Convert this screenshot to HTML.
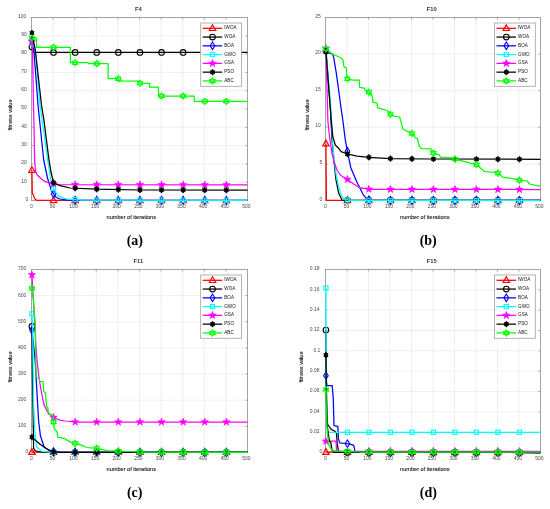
<!DOCTYPE html><html><head><meta charset="utf-8"><style>html,body{margin:0;padding:0;background:#fff}svg{display:block}</style></head><body>
<svg width="550" height="509" viewBox="0 0 550 509">
<rect width="550" height="509" fill="#fff"/>
<g stroke="#ebebeb" stroke-width="0.8"><line x1="53.1" y1="17.5" x2="53.1" y2="200.5"/><line x1="74.7" y1="17.5" x2="74.7" y2="200.5"/><line x1="96.3" y1="17.5" x2="96.3" y2="200.5"/><line x1="117.9" y1="17.5" x2="117.9" y2="200.5"/><line x1="139.5" y1="17.5" x2="139.5" y2="200.5"/><line x1="161.1" y1="17.5" x2="161.1" y2="200.5"/><line x1="182.7" y1="17.5" x2="182.7" y2="200.5"/><line x1="204.3" y1="17.5" x2="204.3" y2="200.5"/><line x1="225.9" y1="17.5" x2="225.9" y2="200.5"/><line x1="31.5" y1="182.2" x2="247.5" y2="182.2"/><line x1="31.5" y1="163.9" x2="247.5" y2="163.9"/><line x1="31.5" y1="145.6" x2="247.5" y2="145.6"/><line x1="31.5" y1="127.3" x2="247.5" y2="127.3"/><line x1="31.5" y1="109" x2="247.5" y2="109"/><line x1="31.5" y1="90.7" x2="247.5" y2="90.7"/><line x1="31.5" y1="72.4" x2="247.5" y2="72.4"/><line x1="31.5" y1="54.1" x2="247.5" y2="54.1"/><line x1="31.5" y1="35.8" x2="247.5" y2="35.8"/></g>
<rect x="31.5" y="17.5" width="216" height="183" fill="none" stroke="#9a9a9a" stroke-width="0.9"/>
<g stroke="#8a8a8a" stroke-width="0.7"><line x1="53.1" y1="200.5" x2="53.1" y2="198.5"/><line x1="53.1" y1="17.5" x2="53.1" y2="19.5"/><line x1="74.7" y1="200.5" x2="74.7" y2="198.5"/><line x1="74.7" y1="17.5" x2="74.7" y2="19.5"/><line x1="96.3" y1="200.5" x2="96.3" y2="198.5"/><line x1="96.3" y1="17.5" x2="96.3" y2="19.5"/><line x1="117.9" y1="200.5" x2="117.9" y2="198.5"/><line x1="117.9" y1="17.5" x2="117.9" y2="19.5"/><line x1="139.5" y1="200.5" x2="139.5" y2="198.5"/><line x1="139.5" y1="17.5" x2="139.5" y2="19.5"/><line x1="161.1" y1="200.5" x2="161.1" y2="198.5"/><line x1="161.1" y1="17.5" x2="161.1" y2="19.5"/><line x1="182.7" y1="200.5" x2="182.7" y2="198.5"/><line x1="182.7" y1="17.5" x2="182.7" y2="19.5"/><line x1="204.3" y1="200.5" x2="204.3" y2="198.5"/><line x1="204.3" y1="17.5" x2="204.3" y2="19.5"/><line x1="225.9" y1="200.5" x2="225.9" y2="198.5"/><line x1="225.9" y1="17.5" x2="225.9" y2="19.5"/><line x1="31.5" y1="182.2" x2="33.5" y2="182.2"/><line x1="247.5" y1="182.2" x2="245.5" y2="182.2"/><line x1="31.5" y1="163.9" x2="33.5" y2="163.9"/><line x1="247.5" y1="163.9" x2="245.5" y2="163.9"/><line x1="31.5" y1="145.6" x2="33.5" y2="145.6"/><line x1="247.5" y1="145.6" x2="245.5" y2="145.6"/><line x1="31.5" y1="127.3" x2="33.5" y2="127.3"/><line x1="247.5" y1="127.3" x2="245.5" y2="127.3"/><line x1="31.5" y1="109" x2="33.5" y2="109"/><line x1="247.5" y1="109" x2="245.5" y2="109"/><line x1="31.5" y1="90.7" x2="33.5" y2="90.7"/><line x1="247.5" y1="90.7" x2="245.5" y2="90.7"/><line x1="31.5" y1="72.4" x2="33.5" y2="72.4"/><line x1="247.5" y1="72.4" x2="245.5" y2="72.4"/><line x1="31.5" y1="54.1" x2="33.5" y2="54.1"/><line x1="247.5" y1="54.1" x2="245.5" y2="54.1"/><line x1="31.5" y1="35.8" x2="33.5" y2="35.8"/><line x1="247.5" y1="35.8" x2="245.5" y2="35.8"/></g>
<g font-family="Liberation Sans, Arial, sans-serif" font-size="5" fill="#4a4a4a"><text x="31.3" y="208.3" text-anchor="middle">0</text><text x="52.6" y="208.3" text-anchor="middle">50</text><text x="73.5" y="208.3" text-anchor="middle">100</text><text x="95.1" y="208.3" text-anchor="middle">150</text><text x="116.7" y="208.3" text-anchor="middle">200</text><text x="138.3" y="208.3" text-anchor="middle">250</text><text x="159.9" y="208.3" text-anchor="middle">300</text><text x="181.5" y="208.3" text-anchor="middle">350</text><text x="203.1" y="208.3" text-anchor="middle">400</text><text x="224.7" y="208.3" text-anchor="middle">450</text><text x="246.3" y="208.3" text-anchor="middle">500</text><text x="28.4" y="200.8" text-anchor="end">0</text><text x="26.9" y="182.5" text-anchor="end">10</text><text x="26.9" y="164.2" text-anchor="end">20</text><text x="26.9" y="145.9" text-anchor="end">30</text><text x="26.9" y="127.6" text-anchor="end">40</text><text x="26.9" y="109.3" text-anchor="end">50</text><text x="26.9" y="91" text-anchor="end">60</text><text x="26.9" y="72.7" text-anchor="end">70</text><text x="26.9" y="54.4" text-anchor="end">80</text><text x="26.9" y="36.1" text-anchor="end">90</text><text x="26.4" y="17.8" text-anchor="end">100</text></g>
<text x="138.3" y="10.8" text-anchor="middle" font-family="Liberation Sans, Arial, sans-serif" font-size="5.8" font-weight="bold" fill="#333">F4</text>
<text x="131.3" y="218.6" text-anchor="middle" font-family="Liberation Sans, Arial, sans-serif" font-size="5.6" fill="#1a1a1a" stroke="#1a1a1a" stroke-width="0.12">number of iterations</text>
<text transform="translate(12.4,115) rotate(-90)" text-anchor="middle" font-family="Liberation Sans, Arial, sans-serif" font-size="5.6" fill="#1a1a1a" stroke="#1a1a1a" stroke-width="0.12">fitness value</text>
<path d="M31.93,170.3 L32.3,192.7 L34.9,198.9 L37,200.4 L247.5,200.4" fill="none" stroke="#ff0000" stroke-width="1.25" stroke-linejoin="round"/>
<polygon points="31.93,166.7 35.13,172.5 28.73,172.5" fill="none" stroke="#ff0000" stroke-width="1.2"/><polygon points="53.53,196.8 56.73,202.6 50.33,202.6" fill="none" stroke="#ff0000" stroke-width="1.2"/><polygon points="75.13,196.8 78.33,202.6 71.93,202.6" fill="none" stroke="#ff0000" stroke-width="1.2"/><polygon points="96.73,196.8 99.93,202.6 93.53,202.6" fill="none" stroke="#ff0000" stroke-width="1.2"/><polygon points="118.33,196.8 121.53,202.6 115.13,202.6" fill="none" stroke="#ff0000" stroke-width="1.2"/><polygon points="139.93,196.8 143.13,202.6 136.73,202.6" fill="none" stroke="#ff0000" stroke-width="1.2"/><polygon points="161.53,196.8 164.73,202.6 158.33,202.6" fill="none" stroke="#ff0000" stroke-width="1.2"/><polygon points="183.13,196.8 186.33,202.6 179.93,202.6" fill="none" stroke="#ff0000" stroke-width="1.2"/><polygon points="204.73,196.8 207.93,202.6 201.53,202.6" fill="none" stroke="#ff0000" stroke-width="1.2"/><polygon points="226.33,196.8 229.53,202.6 223.13,202.6" fill="none" stroke="#ff0000" stroke-width="1.2"/>
<path d="M31.93,46.9 L33.5,52.4 L247.5,52.4" fill="none" stroke="#000000" stroke-width="1.25" stroke-linejoin="round"/>
<circle cx="31.93" cy="46.9" r="2.8" fill="none" stroke="#000000" stroke-width="1.1"/><circle cx="53.53" cy="52.4" r="2.8" fill="none" stroke="#000000" stroke-width="1.1"/><circle cx="75.13" cy="52.4" r="2.8" fill="none" stroke="#000000" stroke-width="1.1"/><circle cx="96.73" cy="52.4" r="2.8" fill="none" stroke="#000000" stroke-width="1.1"/><circle cx="118.33" cy="52.4" r="2.8" fill="none" stroke="#000000" stroke-width="1.1"/><circle cx="139.93" cy="52.4" r="2.8" fill="none" stroke="#000000" stroke-width="1.1"/><circle cx="161.53" cy="52.4" r="2.8" fill="none" stroke="#000000" stroke-width="1.1"/><circle cx="183.13" cy="52.4" r="2.8" fill="none" stroke="#000000" stroke-width="1.1"/><circle cx="204.73" cy="52.4" r="2.8" fill="none" stroke="#000000" stroke-width="1.1"/><circle cx="226.33" cy="52.4" r="2.8" fill="none" stroke="#000000" stroke-width="1.1"/>
<path d="M31.93,40.5 L33.9,50 L38,105 L43.7,160 L47.5,178 L51.2,190.1 L52.8,192.7 L54.5,195.5 L56.5,197.5 L60,199 L66,199.9 L75,200.3 L247.5,200.3" fill="none" stroke="#0000ff" stroke-width="1.25" stroke-linejoin="round"/>
<polygon points="31.93,36.7 34.23,40.5 31.93,44.3 29.63,40.5" fill="none" stroke="#0000ff" stroke-width="1.1"/><polygon points="53.53,190.11 55.83,193.91 53.53,197.71 51.23,193.91" fill="none" stroke="#0000ff" stroke-width="1.1"/><polygon points="75.13,196.5 77.43,200.3 75.13,204.1 72.83,200.3" fill="none" stroke="#0000ff" stroke-width="1.1"/><polygon points="96.73,196.5 99.03,200.3 96.73,204.1 94.43,200.3" fill="none" stroke="#0000ff" stroke-width="1.1"/><polygon points="118.33,196.5 120.63,200.3 118.33,204.1 116.03,200.3" fill="none" stroke="#0000ff" stroke-width="1.1"/><polygon points="139.93,196.5 142.23,200.3 139.93,204.1 137.63,200.3" fill="none" stroke="#0000ff" stroke-width="1.1"/><polygon points="161.53,196.5 163.83,200.3 161.53,204.1 159.23,200.3" fill="none" stroke="#0000ff" stroke-width="1.1"/><polygon points="183.13,196.5 185.43,200.3 183.13,204.1 180.83,200.3" fill="none" stroke="#0000ff" stroke-width="1.1"/><polygon points="204.73,196.5 207.03,200.3 204.73,204.1 202.43,200.3" fill="none" stroke="#0000ff" stroke-width="1.1"/><polygon points="226.33,196.5 228.63,200.3 226.33,204.1 224.03,200.3" fill="none" stroke="#0000ff" stroke-width="1.1"/>
<path d="M31.93,43 L35.3,50 L40,105 L47.7,160 L50.5,178 L52.1,185.7 L54.3,190 L56.5,193.5 L59.2,196.3 L65,198.6 L70,199.3 L80,200 L247.5,200.3" fill="none" stroke="#00ffff" stroke-width="1.25" stroke-linejoin="round"/>
<rect x="29.83" y="40.9" width="4.2" height="4.2" fill="none" stroke="#00ffff" stroke-width="1.1"/><rect x="51.43" y="186.4" width="4.2" height="4.2" fill="none" stroke="#00ffff" stroke-width="1.1"/><rect x="73.03" y="197.56" width="4.2" height="4.2" fill="none" stroke="#00ffff" stroke-width="1.1"/><rect x="94.63" y="197.93" width="4.2" height="4.2" fill="none" stroke="#00ffff" stroke-width="1.1"/><rect x="116.23" y="197.97" width="4.2" height="4.2" fill="none" stroke="#00ffff" stroke-width="1.1"/><rect x="137.83" y="198.01" width="4.2" height="4.2" fill="none" stroke="#00ffff" stroke-width="1.1"/><rect x="159.43" y="198.05" width="4.2" height="4.2" fill="none" stroke="#00ffff" stroke-width="1.1"/><rect x="181.03" y="198.08" width="4.2" height="4.2" fill="none" stroke="#00ffff" stroke-width="1.1"/><rect x="202.63" y="198.12" width="4.2" height="4.2" fill="none" stroke="#00ffff" stroke-width="1.1"/><rect x="224.23" y="198.16" width="4.2" height="4.2" fill="none" stroke="#00ffff" stroke-width="1.1"/>
<path d="M31.93,41.5 L32.5,50 L33.5,105 L33.9,120 L34.6,160 L35.4,170 L36.2,173 L37.5,175.3 L40.4,178 L43,180.3 L45.2,181.7 L50.1,182.9 L53.5,183.8 L60,184.6 L247.5,184.9" fill="none" stroke="#ff00ff" stroke-width="1.25" stroke-linejoin="round"/>
<polygon points="31.93,37.6 32.87,40.21 35.64,40.29 33.45,41.99 34.22,44.66 31.93,43.1 29.64,44.66 30.41,41.99 28.22,40.29 30.99,40.21" fill="#ff00ff" stroke="#ff00ff" stroke-width="0.6"/><polygon points="53.53,179.9 54.47,182.51 57.24,182.6 55.05,184.3 55.82,186.96 53.53,185.4 51.24,186.96 52.01,184.3 49.82,182.6 52.59,182.51" fill="#ff00ff" stroke="#ff00ff" stroke-width="0.6"/><polygon points="75.13,180.72 76.07,183.33 78.84,183.42 76.65,185.12 77.42,187.78 75.13,186.22 72.84,187.78 73.61,185.12 71.42,183.42 74.19,183.33" fill="#ff00ff" stroke="#ff00ff" stroke-width="0.6"/><polygon points="96.73,180.76 97.67,183.36 100.44,183.45 98.25,185.15 99.02,187.81 96.73,186.26 94.44,187.81 95.21,185.15 93.02,183.45 95.79,183.36" fill="#ff00ff" stroke="#ff00ff" stroke-width="0.6"/><polygon points="118.33,180.79 119.27,183.4 122.04,183.49 119.85,185.19 120.62,187.85 118.33,186.29 116.04,187.85 116.81,185.19 114.62,183.49 117.39,183.4" fill="#ff00ff" stroke="#ff00ff" stroke-width="0.6"/><polygon points="139.93,180.83 140.87,183.43 143.64,183.52 141.45,185.22 142.22,187.88 139.93,186.33 137.64,187.88 138.41,185.22 136.22,183.52 138.99,183.43" fill="#ff00ff" stroke="#ff00ff" stroke-width="0.6"/><polygon points="161.53,180.86 162.47,183.47 165.24,183.56 163.05,185.26 163.82,187.92 161.53,186.36 159.24,187.92 160.01,185.26 157.82,183.56 160.59,183.47" fill="#ff00ff" stroke="#ff00ff" stroke-width="0.6"/><polygon points="183.13,180.9 184.07,183.5 186.84,183.59 184.65,185.29 185.42,187.95 183.13,186.4 180.84,187.95 181.61,185.29 179.42,183.59 182.19,183.5" fill="#ff00ff" stroke="#ff00ff" stroke-width="0.6"/><polygon points="204.73,180.93 205.67,183.54 208.44,183.63 206.25,185.33 207.02,187.99 204.73,186.43 202.44,187.99 203.21,185.33 201.02,183.63 203.79,183.54" fill="#ff00ff" stroke="#ff00ff" stroke-width="0.6"/><polygon points="226.33,180.97 227.27,183.57 230.04,183.66 227.85,185.36 228.62,188.02 226.33,186.47 224.04,188.02 224.81,185.36 222.62,183.66 225.39,183.57" fill="#ff00ff" stroke="#ff00ff" stroke-width="0.6"/>
<path d="M31.93,33 L33,40 L35.3,50 L41.5,105 L43.9,120 L49,160 L51,172 L53.5,182.6 L57,184.5 L60,185.6 L70,188 L96.7,189.2 L140,190 L247.5,190.2" fill="none" stroke="#000000" stroke-width="1.25" stroke-linejoin="round"/>
<polygon points="31.93,30 32.69,31.35 34.01,31.5 33.45,33 34.01,34.5 32.69,34.65 31.93,36 31.17,34.65 29.85,34.5 30.41,33 29.85,31.5 31.17,31.35" fill="#000000" stroke="#000000" stroke-width="0.8"/><polygon points="53.53,179.62 54.29,180.97 55.61,181.12 55.05,182.62 55.61,184.12 54.29,184.26 53.53,185.62 52.77,184.26 51.45,184.12 52.01,182.62 51.45,181.12 52.77,180.97" fill="#000000" stroke="#000000" stroke-width="0.8"/><polygon points="75.13,185.23 75.89,186.59 77.21,186.73 76.65,188.23 77.21,189.73 75.89,189.88 75.13,191.23 74.37,189.88 73.05,189.73 73.61,188.23 73.05,186.73 74.37,186.59" fill="#000000" stroke="#000000" stroke-width="0.8"/><polygon points="96.73,186.2 97.49,187.56 98.81,187.7 98.25,189.2 98.81,190.7 97.49,190.85 96.73,192.2 95.97,190.85 94.65,190.7 95.21,189.2 94.65,187.7 95.97,187.56" fill="#000000" stroke="#000000" stroke-width="0.8"/><polygon points="118.33,186.6 119.09,187.95 120.41,188.1 119.85,189.6 120.41,191.1 119.09,191.25 118.33,192.6 117.57,191.25 116.25,191.1 116.81,189.6 116.25,188.1 117.57,187.95" fill="#000000" stroke="#000000" stroke-width="0.8"/><polygon points="139.93,187 140.69,188.35 142.01,188.5 141.45,190 142.01,191.5 140.69,191.64 139.93,193 139.17,191.64 137.85,191.5 138.41,190 137.85,188.5 139.17,188.35" fill="#000000" stroke="#000000" stroke-width="0.8"/><polygon points="161.53,187.04 162.29,188.39 163.61,188.54 163.05,190.04 163.61,191.54 162.29,191.69 161.53,193.04 160.77,191.69 159.45,191.54 160.01,190.04 159.45,188.54 160.77,188.39" fill="#000000" stroke="#000000" stroke-width="0.8"/><polygon points="183.13,187.08 183.89,188.43 185.21,188.58 184.65,190.08 185.21,191.58 183.89,191.73 183.13,193.08 182.37,191.73 181.05,191.58 181.61,190.08 181.05,188.58 182.37,188.43" fill="#000000" stroke="#000000" stroke-width="0.8"/><polygon points="204.73,187.12 205.49,188.47 206.81,188.62 206.25,190.12 206.81,191.62 205.49,191.77 204.73,193.12 203.97,191.77 202.65,191.62 203.21,190.12 202.65,188.62 203.97,188.47" fill="#000000" stroke="#000000" stroke-width="0.8"/><polygon points="226.33,187.16 227.09,188.52 228.41,188.66 227.85,190.16 228.41,191.66 227.09,191.81 226.33,193.16 225.57,191.81 224.25,191.66 224.81,190.16 224.25,188.66 225.57,188.52" fill="#000000" stroke="#000000" stroke-width="0.8"/>
<path d="M31.93,38 L36.6,38 L36.6,47.3 L70.4,47.3 L70.4,62.7 L88.2,62.7 L88.4,63.6 L108.1,63.6 L108.1,78.7 L118.4,78.7 L118.6,80.9 L138.5,81.1 L139.5,83.2 L149.7,83.3 L149.7,87.2 L158.4,87.2 L158.6,96 L194.2,96 L194.4,101.3 L247.5,101.3" fill="none" stroke="#00ff00" stroke-width="1.25" stroke-linejoin="round"/>
<polygon points="31.93,35.1 32.83,36.44 34.44,36.55 33.73,38 34.44,39.45 32.83,39.56 31.93,40.9 31.03,39.56 29.42,39.45 30.13,38 29.42,36.55 31.03,36.44" fill="none" stroke="#00ff00" stroke-width="1.3"/><polygon points="53.53,44.4 54.43,45.74 56.04,45.85 55.33,47.3 56.04,48.75 54.43,48.86 53.53,50.2 52.63,48.86 51.02,48.75 51.73,47.3 51.02,45.85 52.63,45.74" fill="none" stroke="#00ff00" stroke-width="1.3"/><polygon points="75.13,59.8 76.03,61.14 77.64,61.25 76.93,62.7 77.64,64.15 76.03,64.26 75.13,65.6 74.23,64.26 72.62,64.15 73.33,62.7 72.62,61.25 74.23,61.14" fill="none" stroke="#00ff00" stroke-width="1.3"/><polygon points="96.73,60.7 97.63,62.04 99.24,62.15 98.53,63.6 99.24,65.05 97.63,65.16 96.73,66.5 95.83,65.16 94.22,65.05 94.93,63.6 94.22,62.15 95.83,62.04" fill="none" stroke="#00ff00" stroke-width="1.3"/><polygon points="118.33,75.8 119.23,77.14 120.84,77.25 120.13,78.7 120.84,80.15 119.23,80.26 118.33,81.6 117.43,80.26 115.82,80.15 116.53,78.7 115.82,77.25 117.43,77.14" fill="none" stroke="#00ff00" stroke-width="1.3"/><polygon points="139.93,80.3 140.83,81.65 142.44,81.75 141.73,83.2 142.44,84.65 140.83,84.76 139.93,86.1 139.03,84.76 137.42,84.65 138.13,83.2 137.42,81.75 139.03,81.65" fill="none" stroke="#00ff00" stroke-width="1.3"/><polygon points="161.53,93.1 162.43,94.44 164.04,94.55 163.33,96 164.04,97.45 162.43,97.56 161.53,98.9 160.63,97.56 159.02,97.45 159.73,96 159.02,94.55 160.63,94.44" fill="none" stroke="#00ff00" stroke-width="1.3"/><polygon points="183.13,93.1 184.03,94.44 185.64,94.55 184.93,96 185.64,97.45 184.03,97.56 183.13,98.9 182.23,97.56 180.62,97.45 181.33,96 180.62,94.55 182.23,94.44" fill="none" stroke="#00ff00" stroke-width="1.3"/><polygon points="204.73,98.4 205.63,99.74 207.24,99.85 206.53,101.3 207.24,102.75 205.63,102.86 204.73,104.2 203.83,102.86 202.22,102.75 202.93,101.3 202.22,99.85 203.83,99.74" fill="none" stroke="#00ff00" stroke-width="1.3"/><polygon points="226.33,98.4 227.23,99.74 228.84,99.85 228.13,101.3 228.84,102.75 227.23,102.86 226.33,104.2 225.43,102.86 223.82,102.75 224.53,101.3 223.82,99.85 225.43,99.74" fill="none" stroke="#00ff00" stroke-width="1.3"/>
<rect x="200.7" y="23" width="40.8" height="63.3" fill="#fff" stroke="#a0a0a0" stroke-width="0.8"/>
<line x1="202.7" y1="28.3" x2="222.2" y2="28.3" stroke="#ff0000" stroke-width="1.25"/>
<polygon points="212.5,24.7 215.7,30.5 209.3,30.5" fill="none" stroke="#ff0000" stroke-width="1.2"/>
<text x="224.3" y="29.2" font-family="Liberation Sans, Arial, sans-serif" font-size="4.6" fill="#111">IWOA</text>
<line x1="202.7" y1="37.07" x2="222.2" y2="37.07" stroke="#000000" stroke-width="1.25"/>
<circle cx="212.5" cy="37.07" r="2.8" fill="none" stroke="#000000" stroke-width="1.1"/>
<text x="224.3" y="37.97" font-family="Liberation Sans, Arial, sans-serif" font-size="4.6" fill="#111">WOA</text>
<line x1="202.7" y1="45.84" x2="222.2" y2="45.84" stroke="#0000ff" stroke-width="1.25"/>
<polygon points="212.5,42.04 214.8,45.84 212.5,49.64 210.2,45.84" fill="none" stroke="#0000ff" stroke-width="1.1"/>
<text x="224.3" y="46.74" font-family="Liberation Sans, Arial, sans-serif" font-size="4.6" fill="#111">BOA</text>
<line x1="202.7" y1="54.61" x2="222.2" y2="54.61" stroke="#00ffff" stroke-width="1.25"/>
<rect x="210.4" y="52.51" width="4.2" height="4.2" fill="none" stroke="#00ffff" stroke-width="1.1"/>
<text x="224.3" y="55.51" font-family="Liberation Sans, Arial, sans-serif" font-size="4.6" fill="#111">GWO</text>
<line x1="202.7" y1="63.38" x2="222.2" y2="63.38" stroke="#ff00ff" stroke-width="1.25"/>
<polygon points="212.5,59.48 213.44,62.09 216.21,62.17 214.02,63.87 214.79,66.54 212.5,64.98 210.21,66.54 210.98,63.87 208.79,62.17 211.56,62.09" fill="#ff00ff" stroke="#ff00ff" stroke-width="0.6"/>
<text x="224.3" y="64.28" font-family="Liberation Sans, Arial, sans-serif" font-size="4.6" fill="#111">GSA</text>
<line x1="202.7" y1="72.15" x2="222.2" y2="72.15" stroke="#000000" stroke-width="1.25"/>
<polygon points="212.5,69.15 213.26,70.5 214.58,70.65 214.02,72.15 214.58,73.65 213.26,73.8 212.5,75.15 211.74,73.8 210.42,73.65 210.98,72.15 210.42,70.65 211.74,70.5" fill="#000000" stroke="#000000" stroke-width="0.8"/>
<text x="224.3" y="73.05" font-family="Liberation Sans, Arial, sans-serif" font-size="4.6" fill="#111">PSO</text>
<line x1="202.7" y1="80.92" x2="222.2" y2="80.92" stroke="#00ff00" stroke-width="1.25"/>
<polygon points="212.5,78.02 213.4,79.36 215.01,79.47 214.3,80.92 215.01,82.37 213.4,82.48 212.5,83.82 211.6,82.48 209.99,82.37 210.7,80.92 209.99,79.47 211.6,79.36" fill="none" stroke="#00ff00" stroke-width="1.3"/>
<text x="224.3" y="81.82" font-family="Liberation Sans, Arial, sans-serif" font-size="4.6" fill="#111">ABC</text>
<text x="134.8" y="245.1" text-anchor="middle" font-family="Liberation Serif, Times New Roman, serif" font-size="14" font-weight="bold" fill="#000">(a)</text>
<g stroke="#ebebeb" stroke-width="0.8"><line x1="347" y1="17.5" x2="347" y2="200.5"/><line x1="368.5" y1="17.5" x2="368.5" y2="200.5"/><line x1="390" y1="17.5" x2="390" y2="200.5"/><line x1="411.5" y1="17.5" x2="411.5" y2="200.5"/><line x1="433" y1="17.5" x2="433" y2="200.5"/><line x1="454.5" y1="17.5" x2="454.5" y2="200.5"/><line x1="476" y1="17.5" x2="476" y2="200.5"/><line x1="497.5" y1="17.5" x2="497.5" y2="200.5"/><line x1="519" y1="17.5" x2="519" y2="200.5"/><line x1="325.5" y1="163.9" x2="540.5" y2="163.9"/><line x1="325.5" y1="127.3" x2="540.5" y2="127.3"/><line x1="325.5" y1="90.7" x2="540.5" y2="90.7"/><line x1="325.5" y1="54.1" x2="540.5" y2="54.1"/></g>
<rect x="325.5" y="17.5" width="215" height="183" fill="none" stroke="#9a9a9a" stroke-width="0.9"/>
<g stroke="#8a8a8a" stroke-width="0.7"><line x1="347" y1="200.5" x2="347" y2="198.5"/><line x1="347" y1="17.5" x2="347" y2="19.5"/><line x1="368.5" y1="200.5" x2="368.5" y2="198.5"/><line x1="368.5" y1="17.5" x2="368.5" y2="19.5"/><line x1="390" y1="200.5" x2="390" y2="198.5"/><line x1="390" y1="17.5" x2="390" y2="19.5"/><line x1="411.5" y1="200.5" x2="411.5" y2="198.5"/><line x1="411.5" y1="17.5" x2="411.5" y2="19.5"/><line x1="433" y1="200.5" x2="433" y2="198.5"/><line x1="433" y1="17.5" x2="433" y2="19.5"/><line x1="454.5" y1="200.5" x2="454.5" y2="198.5"/><line x1="454.5" y1="17.5" x2="454.5" y2="19.5"/><line x1="476" y1="200.5" x2="476" y2="198.5"/><line x1="476" y1="17.5" x2="476" y2="19.5"/><line x1="497.5" y1="200.5" x2="497.5" y2="198.5"/><line x1="497.5" y1="17.5" x2="497.5" y2="19.5"/><line x1="519" y1="200.5" x2="519" y2="198.5"/><line x1="519" y1="17.5" x2="519" y2="19.5"/><line x1="325.5" y1="163.9" x2="327.5" y2="163.9"/><line x1="540.5" y1="163.9" x2="538.5" y2="163.9"/><line x1="325.5" y1="127.3" x2="327.5" y2="127.3"/><line x1="540.5" y1="127.3" x2="538.5" y2="127.3"/><line x1="325.5" y1="90.7" x2="327.5" y2="90.7"/><line x1="540.5" y1="90.7" x2="538.5" y2="90.7"/><line x1="325.5" y1="54.1" x2="327.5" y2="54.1"/><line x1="540.5" y1="54.1" x2="538.5" y2="54.1"/></g>
<g font-family="Liberation Sans, Arial, sans-serif" font-size="5" fill="#4a4a4a"><text x="325.3" y="208.3" text-anchor="middle">0</text><text x="346.5" y="208.3" text-anchor="middle">50</text><text x="367.3" y="208.3" text-anchor="middle">100</text><text x="388.8" y="208.3" text-anchor="middle">150</text><text x="410.3" y="208.3" text-anchor="middle">200</text><text x="431.8" y="208.3" text-anchor="middle">250</text><text x="453.3" y="208.3" text-anchor="middle">300</text><text x="474.8" y="208.3" text-anchor="middle">350</text><text x="496.3" y="208.3" text-anchor="middle">400</text><text x="517.8" y="208.3" text-anchor="middle">450</text><text x="539.3" y="208.3" text-anchor="middle">500</text><text x="322.4" y="200.5" text-anchor="end">0</text><text x="322.4" y="163.9" text-anchor="end">5</text><text x="320.9" y="127.3" text-anchor="end">10</text><text x="320.9" y="90.7" text-anchor="end">15</text><text x="320.9" y="54.1" text-anchor="end">20</text><text x="320.9" y="17.5" text-anchor="end">25</text></g>
<text x="431.8" y="10.8" text-anchor="middle" font-family="Liberation Sans, Arial, sans-serif" font-size="5.8" font-weight="bold" fill="#333">F10</text>
<text x="424.8" y="218.6" text-anchor="middle" font-family="Liberation Sans, Arial, sans-serif" font-size="5.6" fill="#1a1a1a" stroke="#1a1a1a" stroke-width="0.12">number of iterations</text>
<text transform="translate(308.9,115) rotate(-90)" text-anchor="middle" font-family="Liberation Sans, Arial, sans-serif" font-size="5.6" fill="#1a1a1a" stroke="#1a1a1a" stroke-width="0.12">fitness value</text>
<path d="M325.93,143.7 L326.4,200.4 L540.5,200.4" fill="none" stroke="#ff0000" stroke-width="1.25" stroke-linejoin="round"/>
<polygon points="325.93,140.1 329.13,145.9 322.73,145.9" fill="none" stroke="#ff0000" stroke-width="1.2"/><polygon points="347.43,196.8 350.63,202.6 344.23,202.6" fill="none" stroke="#ff0000" stroke-width="1.2"/><polygon points="368.93,196.8 372.13,202.6 365.73,202.6" fill="none" stroke="#ff0000" stroke-width="1.2"/><polygon points="390.43,196.8 393.63,202.6 387.23,202.6" fill="none" stroke="#ff0000" stroke-width="1.2"/><polygon points="411.93,196.8 415.13,202.6 408.73,202.6" fill="none" stroke="#ff0000" stroke-width="1.2"/><polygon points="433.43,196.8 436.63,202.6 430.23,202.6" fill="none" stroke="#ff0000" stroke-width="1.2"/><polygon points="454.93,196.8 458.13,202.6 451.73,202.6" fill="none" stroke="#ff0000" stroke-width="1.2"/><polygon points="476.43,196.8 479.63,202.6 473.23,202.6" fill="none" stroke="#ff0000" stroke-width="1.2"/><polygon points="497.93,196.8 501.13,202.6 494.73,202.6" fill="none" stroke="#ff0000" stroke-width="1.2"/><polygon points="519.43,196.8 522.63,202.6 516.23,202.6" fill="none" stroke="#ff0000" stroke-width="1.2"/>
<path d="M325.93,51 L330.5,110 L332,140 L333.7,158.3 L336,180 L338.7,193.3 L342,200 L540.5,200.3" fill="none" stroke="#000000" stroke-width="1.25" stroke-linejoin="round"/>
<circle cx="325.93" cy="51" r="2.8" fill="none" stroke="#000000" stroke-width="1.1"/><circle cx="347.43" cy="200.01" r="2.8" fill="none" stroke="#000000" stroke-width="1.1"/><circle cx="368.93" cy="200.04" r="2.8" fill="none" stroke="#000000" stroke-width="1.1"/><circle cx="390.43" cy="200.07" r="2.8" fill="none" stroke="#000000" stroke-width="1.1"/><circle cx="411.93" cy="200.11" r="2.8" fill="none" stroke="#000000" stroke-width="1.1"/><circle cx="433.43" cy="200.14" r="2.8" fill="none" stroke="#000000" stroke-width="1.1"/><circle cx="454.93" cy="200.17" r="2.8" fill="none" stroke="#000000" stroke-width="1.1"/><circle cx="476.43" cy="200.2" r="2.8" fill="none" stroke="#000000" stroke-width="1.1"/><circle cx="497.93" cy="200.24" r="2.8" fill="none" stroke="#000000" stroke-width="1.1"/><circle cx="519.43" cy="200.27" r="2.8" fill="none" stroke="#000000" stroke-width="1.1"/>
<path d="M325.93,50 L328.3,53 L332.4,53.8 L333.8,57.9 L336.5,74.4 L341.3,110 L342.8,120 L345.3,140 L347.8,153.3 L350.9,168 L357.1,182.5 L363.3,194.8 L367.4,199.7 L372,200.4 L540.5,200.4" fill="none" stroke="#0000ff" stroke-width="1.25" stroke-linejoin="round"/>
<polygon points="325.93,46.2 328.23,50 325.93,53.8 323.63,50" fill="none" stroke="#0000ff" stroke-width="1.1"/><polygon points="347.43,147.53 349.73,151.33 347.43,155.13 345.13,151.33" fill="none" stroke="#0000ff" stroke-width="1.1"/><polygon points="368.93,196.13 371.23,199.93 368.93,203.73 366.63,199.93" fill="none" stroke="#0000ff" stroke-width="1.1"/><polygon points="390.43,196.6 392.73,200.4 390.43,204.2 388.13,200.4" fill="none" stroke="#0000ff" stroke-width="1.1"/><polygon points="411.93,196.6 414.23,200.4 411.93,204.2 409.63,200.4" fill="none" stroke="#0000ff" stroke-width="1.1"/><polygon points="433.43,196.6 435.73,200.4 433.43,204.2 431.13,200.4" fill="none" stroke="#0000ff" stroke-width="1.1"/><polygon points="454.93,196.6 457.23,200.4 454.93,204.2 452.63,200.4" fill="none" stroke="#0000ff" stroke-width="1.1"/><polygon points="476.43,196.6 478.73,200.4 476.43,204.2 474.13,200.4" fill="none" stroke="#0000ff" stroke-width="1.1"/><polygon points="497.93,196.6 500.23,200.4 497.93,204.2 495.63,200.4" fill="none" stroke="#0000ff" stroke-width="1.1"/><polygon points="519.43,196.6 521.73,200.4 519.43,204.2 517.13,200.4" fill="none" stroke="#0000ff" stroke-width="1.1"/>
<path d="M325.93,50 L331,110 L332.8,145 L334.5,161.7 L336.2,175 L338.7,186.7 L341.2,195 L344.5,199.5 L350,200.3 L540.5,200.5" fill="none" stroke="#00ffff" stroke-width="1.25" stroke-linejoin="round"/>
<rect x="323.83" y="47.9" width="4.2" height="4.2" fill="none" stroke="#00ffff" stroke-width="1.1"/><rect x="345.33" y="197.83" width="4.2" height="4.2" fill="none" stroke="#00ffff" stroke-width="1.1"/><rect x="366.83" y="198.22" width="4.2" height="4.2" fill="none" stroke="#00ffff" stroke-width="1.1"/><rect x="388.33" y="198.24" width="4.2" height="4.2" fill="none" stroke="#00ffff" stroke-width="1.1"/><rect x="409.83" y="198.27" width="4.2" height="4.2" fill="none" stroke="#00ffff" stroke-width="1.1"/><rect x="431.33" y="198.29" width="4.2" height="4.2" fill="none" stroke="#00ffff" stroke-width="1.1"/><rect x="452.83" y="198.31" width="4.2" height="4.2" fill="none" stroke="#00ffff" stroke-width="1.1"/><rect x="474.33" y="198.33" width="4.2" height="4.2" fill="none" stroke="#00ffff" stroke-width="1.1"/><rect x="495.83" y="198.36" width="4.2" height="4.2" fill="none" stroke="#00ffff" stroke-width="1.1"/><rect x="517.33" y="198.38" width="4.2" height="4.2" fill="none" stroke="#00ffff" stroke-width="1.1"/>
<path d="M325.93,48.2 L326.2,60 L327.6,110 L327.8,120 L329.5,136.7 L332,153.3 L334.5,163.3 L337,170 L340.3,175 L342.8,176.7 L347.4,179.4 L353,183.5 L359.2,187.6 L369.5,189.3 L540.5,189.5" fill="none" stroke="#ff00ff" stroke-width="1.25" stroke-linejoin="round"/>
<polygon points="325.93,44.3 326.87,46.91 329.64,46.99 327.45,48.69 328.22,51.36 325.93,49.8 323.64,51.36 324.41,48.69 322.22,46.99 324.99,46.91" fill="#ff00ff" stroke="#ff00ff" stroke-width="0.6"/><polygon points="347.43,175.52 348.37,178.13 351.14,178.22 348.95,179.92 349.72,182.58 347.43,181.02 345.14,182.58 345.91,179.92 343.72,178.22 346.49,178.13" fill="#ff00ff" stroke="#ff00ff" stroke-width="0.6"/><polygon points="368.93,185.31 369.87,187.91 372.64,188 370.45,189.7 371.22,192.36 368.93,190.81 366.64,192.36 367.41,189.7 365.22,188 367.99,187.91" fill="#ff00ff" stroke="#ff00ff" stroke-width="0.6"/><polygon points="390.43,185.42 391.37,188.03 394.14,188.12 391.95,189.82 392.72,192.48 390.43,190.92 388.14,192.48 388.91,189.82 386.72,188.12 389.49,188.03" fill="#ff00ff" stroke="#ff00ff" stroke-width="0.6"/><polygon points="411.93,185.45 412.87,188.06 415.64,188.14 413.45,189.84 414.22,192.5 411.93,190.95 409.64,192.5 410.41,189.84 408.22,188.14 410.99,188.06" fill="#ff00ff" stroke="#ff00ff" stroke-width="0.6"/><polygon points="433.43,185.47 434.37,188.08 437.14,188.17 434.95,189.87 435.72,192.53 433.43,190.97 431.14,192.53 431.91,189.87 429.72,188.17 432.49,188.08" fill="#ff00ff" stroke="#ff00ff" stroke-width="0.6"/><polygon points="454.93,185.5 455.87,188.11 458.64,188.19 456.45,189.89 457.22,192.56 454.93,191 452.64,192.56 453.41,189.89 451.22,188.19 453.99,188.11" fill="#ff00ff" stroke="#ff00ff" stroke-width="0.6"/><polygon points="476.43,185.53 477.37,188.13 480.14,188.22 477.95,189.92 478.72,192.58 476.43,191.03 474.14,192.58 474.91,189.92 472.72,188.22 475.49,188.13" fill="#ff00ff" stroke="#ff00ff" stroke-width="0.6"/><polygon points="497.93,185.55 498.87,188.16 501.64,188.25 499.45,189.94 500.22,192.61 497.93,191.05 495.64,192.61 496.41,189.94 494.22,188.25 496.99,188.16" fill="#ff00ff" stroke="#ff00ff" stroke-width="0.6"/><polygon points="519.43,185.58 520.37,188.18 523.14,188.27 520.95,189.97 521.72,192.63 519.43,191.08 517.14,192.63 517.91,189.97 515.72,188.27 518.49,188.18" fill="#ff00ff" stroke="#ff00ff" stroke-width="0.6"/>
<path d="M325.93,50.8 L331.2,120 L332.8,136.7 L335.3,145 L338.7,148.3 L341.2,151.7 L347.4,154 L357.1,156.1 L368.9,157.3 L390,158.6 L430,159 L540.5,159.3" fill="none" stroke="#000000" stroke-width="1.25" stroke-linejoin="round"/>
<polygon points="325.93,47.8 326.69,49.15 328.01,49.3 327.45,50.8 328.01,52.3 326.69,52.45 325.93,53.8 325.17,52.45 323.85,52.3 324.41,50.8 323.85,49.3 325.17,49.15" fill="#000000" stroke="#000000" stroke-width="0.8"/><polygon points="347.43,151.01 348.19,152.36 349.51,152.51 348.95,154.01 349.51,155.51 348.19,155.65 347.43,157.01 346.67,155.65 345.35,155.51 345.91,154.01 345.35,152.51 346.67,152.36" fill="#000000" stroke="#000000" stroke-width="0.8"/><polygon points="368.93,154.3 369.69,155.66 371.01,155.8 370.45,157.3 371.01,158.8 369.69,158.95 368.93,160.3 368.17,158.95 366.85,158.8 367.41,157.3 366.85,155.8 368.17,155.66" fill="#000000" stroke="#000000" stroke-width="0.8"/><polygon points="390.43,155.6 391.19,156.96 392.51,157.1 391.95,158.6 392.51,160.1 391.19,160.25 390.43,161.6 389.67,160.25 388.35,160.1 388.91,158.6 388.35,157.1 389.67,156.96" fill="#000000" stroke="#000000" stroke-width="0.8"/><polygon points="411.93,155.82 412.69,157.17 414.01,157.32 413.45,158.82 414.01,160.32 412.69,160.46 411.93,161.82 411.17,160.46 409.85,160.32 410.41,158.82 409.85,157.32 411.17,157.17" fill="#000000" stroke="#000000" stroke-width="0.8"/><polygon points="433.43,156.01 434.19,157.36 435.51,157.51 434.95,159.01 435.51,160.51 434.19,160.65 433.43,162.01 432.67,160.65 431.35,160.51 431.91,159.01 431.35,157.51 432.67,157.36" fill="#000000" stroke="#000000" stroke-width="0.8"/><polygon points="454.93,156.07 455.69,157.42 457.01,157.57 456.45,159.07 457.01,160.57 455.69,160.71 454.93,162.07 454.17,160.71 452.85,160.57 453.41,159.07 452.85,157.57 454.17,157.42" fill="#000000" stroke="#000000" stroke-width="0.8"/><polygon points="476.43,156.13 477.19,157.48 478.51,157.63 477.95,159.13 478.51,160.63 477.19,160.77 476.43,162.13 475.67,160.77 474.35,160.63 474.91,159.13 474.35,157.63 475.67,157.48" fill="#000000" stroke="#000000" stroke-width="0.8"/><polygon points="497.93,156.18 498.69,157.54 500.01,157.68 499.45,159.18 500.01,160.68 498.69,160.83 497.93,162.18 497.17,160.83 495.85,160.68 496.41,159.18 495.85,157.68 497.17,157.54" fill="#000000" stroke="#000000" stroke-width="0.8"/><polygon points="519.43,156.24 520.19,157.6 521.51,157.74 520.95,159.24 521.51,160.74 520.19,160.89 519.43,162.24 518.67,160.89 517.35,160.74 517.91,159.24 517.35,157.74 518.67,157.6" fill="#000000" stroke="#000000" stroke-width="0.8"/>
<path d="M325.93,48.9 L329,51.2 L333,54.4 L336,55.5 L341.6,58.3 L343.2,60.7 L344,67 L346.3,67.7 L346.8,78 L347.4,78.7 L352.6,80 L359.2,80 L359.7,87.4 L364.4,88.2 L365.2,90.5 L368.9,92.1 L372.2,96 L373,102.3 L377,103 L377.7,107.8 L380.6,108.6 L387.4,110.5 L390.6,114.5 L394.7,116.2 L399.6,117 L401.3,122.7 L402.9,129.3 L406.2,130.9 L411.9,133.4 L415.2,137.5 L417.6,139.1 L419.3,146.5 L421.7,148.6 L430.7,148.9 L433.2,153 L438.9,154.6 L440.6,157.1 L452,157.9 L455,159.1 L460.2,160.4 L470,163.2 L476.7,164.7 L484.7,171.7 L495.5,172.5 L498.3,173.2 L502.5,177.1 L517.2,179.4 L519.5,180.2 L527.2,181 L529.6,184 L540.5,186.4" fill="none" stroke="#00ff00" stroke-width="1.25" stroke-linejoin="round"/>
<polygon points="325.93,46 326.83,47.34 328.44,47.45 327.73,48.9 328.44,50.35 326.83,50.46 325.93,51.8 325.03,50.46 323.42,50.35 324.13,48.9 323.42,47.45 325.03,47.34" fill="none" stroke="#00ff00" stroke-width="1.3"/><polygon points="347.43,75.81 348.33,77.15 349.94,77.26 349.23,78.71 349.94,80.16 348.33,80.27 347.43,81.61 346.53,80.27 344.92,80.16 345.63,78.71 344.92,77.26 346.53,77.15" fill="none" stroke="#00ff00" stroke-width="1.3"/><polygon points="368.93,89.24 369.83,90.58 371.44,90.69 370.73,92.14 371.44,93.59 369.83,93.69 368.93,95.04 368.03,93.69 366.42,93.59 367.13,92.14 366.42,90.69 368.03,90.58" fill="none" stroke="#00ff00" stroke-width="1.3"/><polygon points="390.43,111.39 391.33,112.73 392.94,112.84 392.23,114.29 392.94,115.74 391.33,115.85 390.43,117.19 389.53,115.85 387.92,115.74 388.63,114.29 387.92,112.84 389.53,112.73" fill="none" stroke="#00ff00" stroke-width="1.3"/><polygon points="411.93,130.54 412.83,131.88 414.44,131.99 413.73,133.44 414.44,134.89 412.83,135 411.93,136.34 411.03,135 409.42,134.89 410.13,133.44 409.42,131.99 411.03,131.88" fill="none" stroke="#00ff00" stroke-width="1.3"/><polygon points="433.43,150.16 434.33,151.51 435.94,151.61 435.23,153.06 435.94,154.51 434.33,154.62 433.43,155.96 432.53,154.62 430.92,154.51 431.63,153.06 430.92,151.61 432.53,151.51" fill="none" stroke="#00ff00" stroke-width="1.3"/><polygon points="454.93,156.17 455.83,157.51 457.44,157.62 456.73,159.07 457.44,160.52 455.83,160.63 454.93,161.97 454.03,160.63 452.42,160.52 453.13,159.07 452.42,157.62 454.03,157.51" fill="none" stroke="#00ff00" stroke-width="1.3"/><polygon points="476.43,161.74 477.33,163.08 478.94,163.19 478.23,164.64 478.94,166.09 477.33,166.2 476.43,167.54 475.53,166.2 473.92,166.09 474.63,164.64 473.92,163.19 475.53,163.08" fill="none" stroke="#00ff00" stroke-width="1.3"/><polygon points="497.93,170.21 498.83,171.55 500.44,171.66 499.73,173.11 500.44,174.56 498.83,174.67 497.93,176.01 497.03,174.67 495.42,174.56 496.13,173.11 495.42,171.66 497.03,171.55" fill="none" stroke="#00ff00" stroke-width="1.3"/><polygon points="519.43,177.28 520.33,178.62 521.94,178.73 521.23,180.18 521.94,181.63 520.33,181.73 519.43,183.08 518.53,181.73 516.92,181.63 517.63,180.18 516.92,178.73 518.53,178.62" fill="none" stroke="#00ff00" stroke-width="1.3"/>
<rect x="494.5" y="23" width="40.8" height="63.3" fill="#fff" stroke="#a0a0a0" stroke-width="0.8"/>
<line x1="496.5" y1="28.3" x2="516" y2="28.3" stroke="#ff0000" stroke-width="1.25"/>
<polygon points="506.3,24.7 509.5,30.5 503.1,30.5" fill="none" stroke="#ff0000" stroke-width="1.2"/>
<text x="518.1" y="29.2" font-family="Liberation Sans, Arial, sans-serif" font-size="4.6" fill="#111">IWOA</text>
<line x1="496.5" y1="37.07" x2="516" y2="37.07" stroke="#000000" stroke-width="1.25"/>
<circle cx="506.3" cy="37.07" r="2.8" fill="none" stroke="#000000" stroke-width="1.1"/>
<text x="518.1" y="37.97" font-family="Liberation Sans, Arial, sans-serif" font-size="4.6" fill="#111">WOA</text>
<line x1="496.5" y1="45.84" x2="516" y2="45.84" stroke="#0000ff" stroke-width="1.25"/>
<polygon points="506.3,42.04 508.6,45.84 506.3,49.64 504,45.84" fill="none" stroke="#0000ff" stroke-width="1.1"/>
<text x="518.1" y="46.74" font-family="Liberation Sans, Arial, sans-serif" font-size="4.6" fill="#111">BOA</text>
<line x1="496.5" y1="54.61" x2="516" y2="54.61" stroke="#00ffff" stroke-width="1.25"/>
<rect x="504.2" y="52.51" width="4.2" height="4.2" fill="none" stroke="#00ffff" stroke-width="1.1"/>
<text x="518.1" y="55.51" font-family="Liberation Sans, Arial, sans-serif" font-size="4.6" fill="#111">GWO</text>
<line x1="496.5" y1="63.38" x2="516" y2="63.38" stroke="#ff00ff" stroke-width="1.25"/>
<polygon points="506.3,59.48 507.24,62.09 510.01,62.17 507.82,63.87 508.59,66.54 506.3,64.98 504.01,66.54 504.78,63.87 502.59,62.17 505.36,62.09" fill="#ff00ff" stroke="#ff00ff" stroke-width="0.6"/>
<text x="518.1" y="64.28" font-family="Liberation Sans, Arial, sans-serif" font-size="4.6" fill="#111">GSA</text>
<line x1="496.5" y1="72.15" x2="516" y2="72.15" stroke="#000000" stroke-width="1.25"/>
<polygon points="506.3,69.15 507.06,70.5 508.38,70.65 507.82,72.15 508.38,73.65 507.06,73.8 506.3,75.15 505.54,73.8 504.22,73.65 504.78,72.15 504.22,70.65 505.54,70.5" fill="#000000" stroke="#000000" stroke-width="0.8"/>
<text x="518.1" y="73.05" font-family="Liberation Sans, Arial, sans-serif" font-size="4.6" fill="#111">PSO</text>
<line x1="496.5" y1="80.92" x2="516" y2="80.92" stroke="#00ff00" stroke-width="1.25"/>
<polygon points="506.3,78.02 507.2,79.36 508.81,79.47 508.1,80.92 508.81,82.37 507.2,82.48 506.3,83.82 505.4,82.48 503.79,82.37 504.5,80.92 503.79,79.47 505.4,79.36" fill="none" stroke="#00ff00" stroke-width="1.3"/>
<text x="518.1" y="81.82" font-family="Liberation Sans, Arial, sans-serif" font-size="4.6" fill="#111">ABC</text>
<text x="428.2" y="245.1" text-anchor="middle" font-family="Liberation Serif, Times New Roman, serif" font-size="14" font-weight="bold" fill="#000">(b)</text>
<g stroke="#ebebeb" stroke-width="0.8"><line x1="53.1" y1="269.5" x2="53.1" y2="452.5"/><line x1="74.7" y1="269.5" x2="74.7" y2="452.5"/><line x1="96.3" y1="269.5" x2="96.3" y2="452.5"/><line x1="117.9" y1="269.5" x2="117.9" y2="452.5"/><line x1="139.5" y1="269.5" x2="139.5" y2="452.5"/><line x1="161.1" y1="269.5" x2="161.1" y2="452.5"/><line x1="182.7" y1="269.5" x2="182.7" y2="452.5"/><line x1="204.3" y1="269.5" x2="204.3" y2="452.5"/><line x1="225.9" y1="269.5" x2="225.9" y2="452.5"/><line x1="31.5" y1="426.36" x2="247.5" y2="426.36"/><line x1="31.5" y1="400.21" x2="247.5" y2="400.21"/><line x1="31.5" y1="374.07" x2="247.5" y2="374.07"/><line x1="31.5" y1="347.93" x2="247.5" y2="347.93"/><line x1="31.5" y1="321.79" x2="247.5" y2="321.79"/><line x1="31.5" y1="295.64" x2="247.5" y2="295.64"/></g>
<rect x="31.5" y="269.5" width="216" height="183" fill="none" stroke="#9a9a9a" stroke-width="0.9"/>
<g stroke="#8a8a8a" stroke-width="0.7"><line x1="53.1" y1="452.5" x2="53.1" y2="450.5"/><line x1="53.1" y1="269.5" x2="53.1" y2="271.5"/><line x1="74.7" y1="452.5" x2="74.7" y2="450.5"/><line x1="74.7" y1="269.5" x2="74.7" y2="271.5"/><line x1="96.3" y1="452.5" x2="96.3" y2="450.5"/><line x1="96.3" y1="269.5" x2="96.3" y2="271.5"/><line x1="117.9" y1="452.5" x2="117.9" y2="450.5"/><line x1="117.9" y1="269.5" x2="117.9" y2="271.5"/><line x1="139.5" y1="452.5" x2="139.5" y2="450.5"/><line x1="139.5" y1="269.5" x2="139.5" y2="271.5"/><line x1="161.1" y1="452.5" x2="161.1" y2="450.5"/><line x1="161.1" y1="269.5" x2="161.1" y2="271.5"/><line x1="182.7" y1="452.5" x2="182.7" y2="450.5"/><line x1="182.7" y1="269.5" x2="182.7" y2="271.5"/><line x1="204.3" y1="452.5" x2="204.3" y2="450.5"/><line x1="204.3" y1="269.5" x2="204.3" y2="271.5"/><line x1="225.9" y1="452.5" x2="225.9" y2="450.5"/><line x1="225.9" y1="269.5" x2="225.9" y2="271.5"/><line x1="31.5" y1="426.36" x2="33.5" y2="426.36"/><line x1="247.5" y1="426.36" x2="245.5" y2="426.36"/><line x1="31.5" y1="400.21" x2="33.5" y2="400.21"/><line x1="247.5" y1="400.21" x2="245.5" y2="400.21"/><line x1="31.5" y1="374.07" x2="33.5" y2="374.07"/><line x1="247.5" y1="374.07" x2="245.5" y2="374.07"/><line x1="31.5" y1="347.93" x2="33.5" y2="347.93"/><line x1="247.5" y1="347.93" x2="245.5" y2="347.93"/><line x1="31.5" y1="321.79" x2="33.5" y2="321.79"/><line x1="247.5" y1="321.79" x2="245.5" y2="321.79"/><line x1="31.5" y1="295.64" x2="33.5" y2="295.64"/><line x1="247.5" y1="295.64" x2="245.5" y2="295.64"/></g>
<g font-family="Liberation Sans, Arial, sans-serif" font-size="5" fill="#4a4a4a"><text x="31.3" y="460.3" text-anchor="middle">0</text><text x="52.6" y="460.3" text-anchor="middle">50</text><text x="73.5" y="460.3" text-anchor="middle">100</text><text x="95.1" y="460.3" text-anchor="middle">150</text><text x="116.7" y="460.3" text-anchor="middle">200</text><text x="138.3" y="460.3" text-anchor="middle">250</text><text x="159.9" y="460.3" text-anchor="middle">300</text><text x="181.5" y="460.3" text-anchor="middle">350</text><text x="203.1" y="460.3" text-anchor="middle">400</text><text x="224.7" y="460.3" text-anchor="middle">450</text><text x="246.3" y="460.3" text-anchor="middle">500</text><text x="28.4" y="453.4" text-anchor="end">0</text><text x="26.4" y="427.26" text-anchor="end">100</text><text x="26.4" y="401.11" text-anchor="end">200</text><text x="26.4" y="374.97" text-anchor="end">300</text><text x="26.4" y="348.83" text-anchor="end">400</text><text x="26.4" y="322.69" text-anchor="end">500</text><text x="26.4" y="296.54" text-anchor="end">600</text><text x="26.4" y="270.4" text-anchor="end">700</text></g>
<text x="138.3" y="262.8" text-anchor="middle" font-family="Liberation Sans, Arial, sans-serif" font-size="5.8" font-weight="bold" fill="#333">F11</text>
<text x="131.3" y="470.6" text-anchor="middle" font-family="Liberation Sans, Arial, sans-serif" font-size="5.6" fill="#1a1a1a" stroke="#1a1a1a" stroke-width="0.12">number of iterations</text>
<text transform="translate(12.4,367) rotate(-90)" text-anchor="middle" font-family="Liberation Sans, Arial, sans-serif" font-size="5.6" fill="#1a1a1a" stroke="#1a1a1a" stroke-width="0.12">fitness value</text>
<path d="M31.93,452.2 L247.5,452.2" fill="none" stroke="#ff0000" stroke-width="1.25" stroke-linejoin="round"/>
<polygon points="31.93,448.6 35.13,454.4 28.73,454.4" fill="none" stroke="#ff0000" stroke-width="1.2"/><polygon points="53.53,448.6 56.73,454.4 50.33,454.4" fill="none" stroke="#ff0000" stroke-width="1.2"/><polygon points="75.13,448.6 78.33,454.4 71.93,454.4" fill="none" stroke="#ff0000" stroke-width="1.2"/><polygon points="96.73,448.6 99.93,454.4 93.53,454.4" fill="none" stroke="#ff0000" stroke-width="1.2"/><polygon points="118.33,448.6 121.53,454.4 115.13,454.4" fill="none" stroke="#ff0000" stroke-width="1.2"/><polygon points="139.93,448.6 143.13,454.4 136.73,454.4" fill="none" stroke="#ff0000" stroke-width="1.2"/><polygon points="161.53,448.6 164.73,454.4 158.33,454.4" fill="none" stroke="#ff0000" stroke-width="1.2"/><polygon points="183.13,448.6 186.33,454.4 179.93,454.4" fill="none" stroke="#ff0000" stroke-width="1.2"/><polygon points="204.73,448.6 207.93,454.4 201.53,454.4" fill="none" stroke="#ff0000" stroke-width="1.2"/><polygon points="226.33,448.6 229.53,454.4 223.13,454.4" fill="none" stroke="#ff0000" stroke-width="1.2"/>
<path d="M31.93,326.4 L32.5,380 L33.2,420 L33.6,448.2 L35,450.5 L37.9,451.5 L45,452.3 L247.5,452.4" fill="none" stroke="#000000" stroke-width="1.25" stroke-linejoin="round"/>
<circle cx="31.93" cy="326.4" r="2.8" fill="none" stroke="#000000" stroke-width="1.1"/><circle cx="53.53" cy="452.3" r="2.8" fill="none" stroke="#000000" stroke-width="1.1"/><circle cx="75.13" cy="452.31" r="2.8" fill="none" stroke="#000000" stroke-width="1.1"/><circle cx="96.73" cy="452.33" r="2.8" fill="none" stroke="#000000" stroke-width="1.1"/><circle cx="118.33" cy="452.34" r="2.8" fill="none" stroke="#000000" stroke-width="1.1"/><circle cx="139.93" cy="452.35" r="2.8" fill="none" stroke="#000000" stroke-width="1.1"/><circle cx="161.53" cy="452.36" r="2.8" fill="none" stroke="#000000" stroke-width="1.1"/><circle cx="183.13" cy="452.37" r="2.8" fill="none" stroke="#000000" stroke-width="1.1"/><circle cx="204.73" cy="452.38" r="2.8" fill="none" stroke="#000000" stroke-width="1.1"/><circle cx="226.33" cy="452.39" r="2.8" fill="none" stroke="#000000" stroke-width="1.1"/>
<path d="M31.93,330 L35.1,359.4 L37.4,400 L38.5,419.8 L40.4,435.8 L44.1,447 L50.3,451.3 L60,452.2 L247.5,452.4" fill="none" stroke="#0000ff" stroke-width="1.25" stroke-linejoin="round"/>
<polygon points="31.93,326.2 34.23,330 31.93,333.8 29.63,330" fill="none" stroke="#0000ff" stroke-width="1.1"/><polygon points="53.53,447.8 55.83,451.6 53.53,455.4 51.23,451.6" fill="none" stroke="#0000ff" stroke-width="1.1"/><polygon points="75.13,448.42 77.43,452.22 75.13,456.02 72.83,452.22" fill="none" stroke="#0000ff" stroke-width="1.1"/><polygon points="96.73,448.44 99.03,452.24 96.73,456.04 94.43,452.24" fill="none" stroke="#0000ff" stroke-width="1.1"/><polygon points="118.33,448.46 120.63,452.26 118.33,456.06 116.03,452.26" fill="none" stroke="#0000ff" stroke-width="1.1"/><polygon points="139.93,448.49 142.23,452.29 139.93,456.09 137.63,452.29" fill="none" stroke="#0000ff" stroke-width="1.1"/><polygon points="161.53,448.51 163.83,452.31 161.53,456.11 159.23,452.31" fill="none" stroke="#0000ff" stroke-width="1.1"/><polygon points="183.13,448.53 185.43,452.33 183.13,456.13 180.83,452.33" fill="none" stroke="#0000ff" stroke-width="1.1"/><polygon points="204.73,448.55 207.03,452.35 204.73,456.15 202.43,452.35" fill="none" stroke="#0000ff" stroke-width="1.1"/><polygon points="226.33,448.58 228.63,452.38 226.33,456.18 224.03,452.38" fill="none" stroke="#0000ff" stroke-width="1.1"/>
<path d="M31.93,313.8 L32.7,329.4 L33.5,400 L34.8,432 L36.7,447 L41.6,451.3 L50,452.2 L247.5,452.4" fill="none" stroke="#00ffff" stroke-width="1.25" stroke-linejoin="round"/>
<rect x="29.83" y="311.7" width="4.2" height="4.2" fill="none" stroke="#00ffff" stroke-width="1.1"/><rect x="51.43" y="450.1" width="4.2" height="4.2" fill="none" stroke="#00ffff" stroke-width="1.1"/><rect x="73.03" y="450.13" width="4.2" height="4.2" fill="none" stroke="#00ffff" stroke-width="1.1"/><rect x="94.63" y="450.15" width="4.2" height="4.2" fill="none" stroke="#00ffff" stroke-width="1.1"/><rect x="116.23" y="450.17" width="4.2" height="4.2" fill="none" stroke="#00ffff" stroke-width="1.1"/><rect x="137.83" y="450.19" width="4.2" height="4.2" fill="none" stroke="#00ffff" stroke-width="1.1"/><rect x="159.43" y="450.21" width="4.2" height="4.2" fill="none" stroke="#00ffff" stroke-width="1.1"/><rect x="181.03" y="450.23" width="4.2" height="4.2" fill="none" stroke="#00ffff" stroke-width="1.1"/><rect x="202.63" y="450.26" width="4.2" height="4.2" fill="none" stroke="#00ffff" stroke-width="1.1"/><rect x="224.23" y="450.28" width="4.2" height="4.2" fill="none" stroke="#00ffff" stroke-width="1.1"/>
<path d="M31.93,274.8 L32.8,290 L34.3,315 L35.5,340 L37,360 L39,377.5 L41,390 L43,400 L44.1,404.9 L47.8,412.3 L53.4,417.3 L58.9,419.8 L65.1,421 L75,422 L247.5,422" fill="none" stroke="#ff00ff" stroke-width="1.25" stroke-linejoin="round"/>
<polygon points="31.93,270.9 32.87,273.51 35.64,273.59 33.45,275.29 34.22,277.96 31.93,276.4 29.64,277.96 30.41,275.29 28.22,273.59 30.99,273.51" fill="#ff00ff" stroke="#ff00ff" stroke-width="0.6"/><polygon points="53.53,413.46 54.47,416.07 57.24,416.15 55.05,417.85 55.82,420.52 53.53,418.96 51.24,420.52 52.01,417.85 49.82,416.15 52.59,416.07" fill="#ff00ff" stroke="#ff00ff" stroke-width="0.6"/><polygon points="75.13,418.1 76.07,420.71 78.84,420.79 76.65,422.49 77.42,425.16 75.13,423.6 72.84,425.16 73.61,422.49 71.42,420.79 74.19,420.71" fill="#ff00ff" stroke="#ff00ff" stroke-width="0.6"/><polygon points="96.73,418.1 97.67,420.71 100.44,420.79 98.25,422.49 99.02,425.16 96.73,423.6 94.44,425.16 95.21,422.49 93.02,420.79 95.79,420.71" fill="#ff00ff" stroke="#ff00ff" stroke-width="0.6"/><polygon points="118.33,418.1 119.27,420.71 122.04,420.79 119.85,422.49 120.62,425.16 118.33,423.6 116.04,425.16 116.81,422.49 114.62,420.79 117.39,420.71" fill="#ff00ff" stroke="#ff00ff" stroke-width="0.6"/><polygon points="139.93,418.1 140.87,420.71 143.64,420.79 141.45,422.49 142.22,425.16 139.93,423.6 137.64,425.16 138.41,422.49 136.22,420.79 138.99,420.71" fill="#ff00ff" stroke="#ff00ff" stroke-width="0.6"/><polygon points="161.53,418.1 162.47,420.71 165.24,420.79 163.05,422.49 163.82,425.16 161.53,423.6 159.24,425.16 160.01,422.49 157.82,420.79 160.59,420.71" fill="#ff00ff" stroke="#ff00ff" stroke-width="0.6"/><polygon points="183.13,418.1 184.07,420.71 186.84,420.79 184.65,422.49 185.42,425.16 183.13,423.6 180.84,425.16 181.61,422.49 179.42,420.79 182.19,420.71" fill="#ff00ff" stroke="#ff00ff" stroke-width="0.6"/><polygon points="204.73,418.1 205.67,420.71 208.44,420.79 206.25,422.49 207.02,425.16 204.73,423.6 202.44,425.16 203.21,422.49 201.02,420.79 203.79,420.71" fill="#ff00ff" stroke="#ff00ff" stroke-width="0.6"/><polygon points="226.33,418.1 227.27,420.71 230.04,420.79 227.85,422.49 228.62,425.16 226.33,423.6 224.04,425.16 224.81,422.49 222.62,420.79 225.39,420.71" fill="#ff00ff" stroke="#ff00ff" stroke-width="0.6"/>
<path d="M31.93,437.1 L35.4,440.2 L40.4,444.5 L46.6,448.8 L52.8,451.9 L60,452.3 L247.5,452.4" fill="none" stroke="#000000" stroke-width="1.25" stroke-linejoin="round"/>
<polygon points="31.93,434.1 32.69,435.45 34.01,435.6 33.45,437.1 34.01,438.6 32.69,438.75 31.93,440.1 31.17,438.75 29.85,438.6 30.41,437.1 29.85,435.6 31.17,435.45" fill="#000000" stroke="#000000" stroke-width="0.8"/><polygon points="53.53,448.94 54.29,450.3 55.61,450.44 55.05,451.94 55.61,453.44 54.29,453.59 53.53,454.94 52.77,453.59 51.45,453.44 52.01,451.94 51.45,450.44 52.77,450.3" fill="#000000" stroke="#000000" stroke-width="0.8"/><polygon points="75.13,449.31 75.89,450.66 77.21,450.81 76.65,452.31 77.21,453.81 75.89,453.95 75.13,455.31 74.37,453.95 73.05,453.81 73.61,452.31 73.05,450.81 74.37,450.66" fill="#000000" stroke="#000000" stroke-width="0.8"/><polygon points="96.73,449.32 97.49,450.67 98.81,450.82 98.25,452.32 98.81,453.82 97.49,453.97 96.73,455.32 95.97,453.97 94.65,453.82 95.21,452.32 94.65,450.82 95.97,450.67" fill="#000000" stroke="#000000" stroke-width="0.8"/><polygon points="118.33,449.33 119.09,450.69 120.41,450.83 119.85,452.33 120.41,453.83 119.09,453.98 118.33,455.33 117.57,453.98 116.25,453.83 116.81,452.33 116.25,450.83 117.57,450.69" fill="#000000" stroke="#000000" stroke-width="0.8"/><polygon points="139.93,449.34 140.69,450.7 142.01,450.84 141.45,452.34 142.01,453.84 140.69,453.99 139.93,455.34 139.17,453.99 137.85,453.84 138.41,452.34 137.85,450.84 139.17,450.7" fill="#000000" stroke="#000000" stroke-width="0.8"/><polygon points="161.53,449.35 162.29,450.71 163.61,450.85 163.05,452.35 163.61,453.85 162.29,454 161.53,455.35 160.77,454 159.45,453.85 160.01,452.35 159.45,450.85 160.77,450.71" fill="#000000" stroke="#000000" stroke-width="0.8"/><polygon points="183.13,449.37 183.89,450.72 185.21,450.87 184.65,452.37 185.21,453.87 183.89,454.01 183.13,455.37 182.37,454.01 181.05,453.87 181.61,452.37 181.05,450.87 182.37,450.72" fill="#000000" stroke="#000000" stroke-width="0.8"/><polygon points="204.73,449.38 205.49,450.73 206.81,450.88 206.25,452.38 206.81,453.88 205.49,454.02 204.73,455.38 203.97,454.02 202.65,453.88 203.21,452.38 202.65,450.88 203.97,450.73" fill="#000000" stroke="#000000" stroke-width="0.8"/><polygon points="226.33,449.39 227.09,450.74 228.41,450.89 227.85,452.39 228.41,453.89 227.09,454.03 226.33,455.39 225.57,454.03 224.25,453.89 224.81,452.39 224.25,450.89 225.57,450.74" fill="#000000" stroke="#000000" stroke-width="0.8"/>
<path d="M31.93,288.2 L33.4,300 L35.4,325 L36,377.5 L39,378 L39.8,381.4 L43,381.7 L43.7,391.7 L45.3,392.4 L46.6,406.8 L47.8,407.4 L48.4,414.2 L52.8,415.4 L53.4,420.4 L54,427.8 L57.1,432.1 L57.7,437.1 L63.9,438.3 L71.3,442.6 L75,443.3 L78,443.9 L83.1,445.8 L86.4,447.5 L97,448.3 L107.6,450.7 L117.5,451 L140,452 L247.5,452.3" fill="none" stroke="#00ff00" stroke-width="1.25" stroke-linejoin="round"/>
<polygon points="31.93,285.3 32.83,286.64 34.44,286.75 33.73,288.2 34.44,289.65 32.83,289.76 31.93,291.1 31.03,289.76 29.42,289.65 30.13,288.2 29.42,286.75 31.03,286.64" fill="none" stroke="#00ff00" stroke-width="1.3"/><polygon points="53.53,419.13 54.43,420.47 56.04,420.58 55.33,422.03 56.04,423.48 54.43,423.59 53.53,424.93 52.63,423.59 51.02,423.48 51.73,422.03 51.02,420.58 52.63,420.47" fill="none" stroke="#00ff00" stroke-width="1.3"/><polygon points="75.13,440.43 76.03,441.77 77.64,441.88 76.93,443.33 77.64,444.78 76.03,444.89 75.13,446.23 74.23,444.89 72.62,444.78 73.33,443.33 72.62,441.88 74.23,441.77" fill="none" stroke="#00ff00" stroke-width="1.3"/><polygon points="96.73,445.38 97.63,446.72 99.24,446.83 98.53,448.28 99.24,449.73 97.63,449.84 96.73,451.18 95.83,449.84 94.22,449.73 94.93,448.28 94.22,446.83 95.83,446.72" fill="none" stroke="#00ff00" stroke-width="1.3"/><polygon points="118.33,448.14 119.23,449.48 120.84,449.59 120.13,451.04 120.84,452.49 119.23,452.6 118.33,453.94 117.43,452.6 115.82,452.49 116.53,451.04 115.82,449.59 117.43,449.48" fill="none" stroke="#00ff00" stroke-width="1.3"/><polygon points="139.93,449.1 140.83,450.44 142.44,450.55 141.73,452 142.44,453.45 140.83,453.56 139.93,454.9 139.03,453.56 137.42,453.45 138.13,452 137.42,450.55 139.03,450.44" fill="none" stroke="#00ff00" stroke-width="1.3"/><polygon points="161.53,449.16 162.43,450.5 164.04,450.61 163.33,452.06 164.04,453.51 162.43,453.62 161.53,454.96 160.63,453.62 159.02,453.51 159.73,452.06 159.02,450.61 160.63,450.5" fill="none" stroke="#00ff00" stroke-width="1.3"/><polygon points="183.13,449.22 184.03,450.56 185.64,450.67 184.93,452.12 185.64,453.57 184.03,453.68 183.13,455.02 182.23,453.68 180.62,453.57 181.33,452.12 180.62,450.67 182.23,450.56" fill="none" stroke="#00ff00" stroke-width="1.3"/><polygon points="204.73,449.28 205.63,450.62 207.24,450.73 206.53,452.18 207.24,453.63 205.63,453.74 204.73,455.08 203.83,453.74 202.22,453.63 202.93,452.18 202.22,450.73 203.83,450.62" fill="none" stroke="#00ff00" stroke-width="1.3"/><polygon points="226.33,449.34 227.23,450.68 228.84,450.79 228.13,452.24 228.84,453.69 227.23,453.8 226.33,455.14 225.43,453.8 223.82,453.69 224.53,452.24 223.82,450.79 225.43,450.68" fill="none" stroke="#00ff00" stroke-width="1.3"/>
<rect x="200.7" y="275" width="40.8" height="63.3" fill="#fff" stroke="#a0a0a0" stroke-width="0.8"/>
<line x1="202.7" y1="280.3" x2="222.2" y2="280.3" stroke="#ff0000" stroke-width="1.25"/>
<polygon points="212.5,276.7 215.7,282.5 209.3,282.5" fill="none" stroke="#ff0000" stroke-width="1.2"/>
<text x="224.3" y="281.2" font-family="Liberation Sans, Arial, sans-serif" font-size="4.6" fill="#111">IWOA</text>
<line x1="202.7" y1="289.07" x2="222.2" y2="289.07" stroke="#000000" stroke-width="1.25"/>
<circle cx="212.5" cy="289.07" r="2.8" fill="none" stroke="#000000" stroke-width="1.1"/>
<text x="224.3" y="289.97" font-family="Liberation Sans, Arial, sans-serif" font-size="4.6" fill="#111">WOA</text>
<line x1="202.7" y1="297.84" x2="222.2" y2="297.84" stroke="#0000ff" stroke-width="1.25"/>
<polygon points="212.5,294.04 214.8,297.84 212.5,301.64 210.2,297.84" fill="none" stroke="#0000ff" stroke-width="1.1"/>
<text x="224.3" y="298.74" font-family="Liberation Sans, Arial, sans-serif" font-size="4.6" fill="#111">BOA</text>
<line x1="202.7" y1="306.61" x2="222.2" y2="306.61" stroke="#00ffff" stroke-width="1.25"/>
<rect x="210.4" y="304.51" width="4.2" height="4.2" fill="none" stroke="#00ffff" stroke-width="1.1"/>
<text x="224.3" y="307.51" font-family="Liberation Sans, Arial, sans-serif" font-size="4.6" fill="#111">GWO</text>
<line x1="202.7" y1="315.38" x2="222.2" y2="315.38" stroke="#ff00ff" stroke-width="1.25"/>
<polygon points="212.5,311.48 213.44,314.09 216.21,314.17 214.02,315.87 214.79,318.54 212.5,316.98 210.21,318.54 210.98,315.87 208.79,314.17 211.56,314.09" fill="#ff00ff" stroke="#ff00ff" stroke-width="0.6"/>
<text x="224.3" y="316.28" font-family="Liberation Sans, Arial, sans-serif" font-size="4.6" fill="#111">GSA</text>
<line x1="202.7" y1="324.15" x2="222.2" y2="324.15" stroke="#000000" stroke-width="1.25"/>
<polygon points="212.5,321.15 213.26,322.5 214.58,322.65 214.02,324.15 214.58,325.65 213.26,325.8 212.5,327.15 211.74,325.8 210.42,325.65 210.98,324.15 210.42,322.65 211.74,322.5" fill="#000000" stroke="#000000" stroke-width="0.8"/>
<text x="224.3" y="325.05" font-family="Liberation Sans, Arial, sans-serif" font-size="4.6" fill="#111">PSO</text>
<line x1="202.7" y1="332.92" x2="222.2" y2="332.92" stroke="#00ff00" stroke-width="1.25"/>
<polygon points="212.5,330.02 213.4,331.36 215.01,331.47 214.3,332.92 215.01,334.37 213.4,334.48 212.5,335.82 211.6,334.48 209.99,334.37 210.7,332.92 209.99,331.47 211.6,331.36" fill="none" stroke="#00ff00" stroke-width="1.3"/>
<text x="224.3" y="333.82" font-family="Liberation Sans, Arial, sans-serif" font-size="4.6" fill="#111">ABC</text>
<text x="134.7" y="497.1" text-anchor="middle" font-family="Liberation Serif, Times New Roman, serif" font-size="14" font-weight="bold" fill="#000">(c)</text>
<g stroke="#ebebeb" stroke-width="0.8"><line x1="347" y1="269.5" x2="347" y2="452.5"/><line x1="368.5" y1="269.5" x2="368.5" y2="452.5"/><line x1="390" y1="269.5" x2="390" y2="452.5"/><line x1="411.5" y1="269.5" x2="411.5" y2="452.5"/><line x1="433" y1="269.5" x2="433" y2="452.5"/><line x1="454.5" y1="269.5" x2="454.5" y2="452.5"/><line x1="476" y1="269.5" x2="476" y2="452.5"/><line x1="497.5" y1="269.5" x2="497.5" y2="452.5"/><line x1="519" y1="269.5" x2="519" y2="452.5"/><line x1="325.5" y1="432.17" x2="540.5" y2="432.17"/><line x1="325.5" y1="411.83" x2="540.5" y2="411.83"/><line x1="325.5" y1="391.5" x2="540.5" y2="391.5"/><line x1="325.5" y1="371.17" x2="540.5" y2="371.17"/><line x1="325.5" y1="350.83" x2="540.5" y2="350.83"/><line x1="325.5" y1="330.5" x2="540.5" y2="330.5"/><line x1="325.5" y1="310.17" x2="540.5" y2="310.17"/><line x1="325.5" y1="289.83" x2="540.5" y2="289.83"/></g>
<rect x="325.5" y="269.5" width="215" height="183" fill="none" stroke="#9a9a9a" stroke-width="0.9"/>
<g stroke="#8a8a8a" stroke-width="0.7"><line x1="347" y1="452.5" x2="347" y2="450.5"/><line x1="347" y1="269.5" x2="347" y2="271.5"/><line x1="368.5" y1="452.5" x2="368.5" y2="450.5"/><line x1="368.5" y1="269.5" x2="368.5" y2="271.5"/><line x1="390" y1="452.5" x2="390" y2="450.5"/><line x1="390" y1="269.5" x2="390" y2="271.5"/><line x1="411.5" y1="452.5" x2="411.5" y2="450.5"/><line x1="411.5" y1="269.5" x2="411.5" y2="271.5"/><line x1="433" y1="452.5" x2="433" y2="450.5"/><line x1="433" y1="269.5" x2="433" y2="271.5"/><line x1="454.5" y1="452.5" x2="454.5" y2="450.5"/><line x1="454.5" y1="269.5" x2="454.5" y2="271.5"/><line x1="476" y1="452.5" x2="476" y2="450.5"/><line x1="476" y1="269.5" x2="476" y2="271.5"/><line x1="497.5" y1="452.5" x2="497.5" y2="450.5"/><line x1="497.5" y1="269.5" x2="497.5" y2="271.5"/><line x1="519" y1="452.5" x2="519" y2="450.5"/><line x1="519" y1="269.5" x2="519" y2="271.5"/><line x1="325.5" y1="432.17" x2="327.5" y2="432.17"/><line x1="540.5" y1="432.17" x2="538.5" y2="432.17"/><line x1="325.5" y1="411.83" x2="327.5" y2="411.83"/><line x1="540.5" y1="411.83" x2="538.5" y2="411.83"/><line x1="325.5" y1="391.5" x2="327.5" y2="391.5"/><line x1="540.5" y1="391.5" x2="538.5" y2="391.5"/><line x1="325.5" y1="371.17" x2="327.5" y2="371.17"/><line x1="540.5" y1="371.17" x2="538.5" y2="371.17"/><line x1="325.5" y1="350.83" x2="327.5" y2="350.83"/><line x1="540.5" y1="350.83" x2="538.5" y2="350.83"/><line x1="325.5" y1="330.5" x2="327.5" y2="330.5"/><line x1="540.5" y1="330.5" x2="538.5" y2="330.5"/><line x1="325.5" y1="310.17" x2="327.5" y2="310.17"/><line x1="540.5" y1="310.17" x2="538.5" y2="310.17"/><line x1="325.5" y1="289.83" x2="327.5" y2="289.83"/><line x1="540.5" y1="289.83" x2="538.5" y2="289.83"/></g>
<g font-family="Liberation Sans, Arial, sans-serif" font-size="5" fill="#4a4a4a"><text x="325.3" y="460.3" text-anchor="middle">0</text><text x="346.5" y="460.3" text-anchor="middle">50</text><text x="367.3" y="460.3" text-anchor="middle">100</text><text x="388.8" y="460.3" text-anchor="middle">150</text><text x="410.3" y="460.3" text-anchor="middle">200</text><text x="431.8" y="460.3" text-anchor="middle">250</text><text x="453.3" y="460.3" text-anchor="middle">300</text><text x="474.8" y="460.3" text-anchor="middle">350</text><text x="496.3" y="460.3" text-anchor="middle">400</text><text x="517.8" y="460.3" text-anchor="middle">450</text><text x="539.3" y="460.3" text-anchor="middle">500</text><text x="322.4" y="453.4" text-anchor="end">0</text><text x="319.5" y="433.07" text-anchor="end">0.02</text><text x="319.5" y="412.73" text-anchor="end">0.04</text><text x="319.5" y="392.4" text-anchor="end">0.06</text><text x="319.5" y="372.07" text-anchor="end">0.08</text><text x="320.4" y="351.73" text-anchor="end">0.1</text><text x="319.5" y="331.4" text-anchor="end">0.12</text><text x="319.5" y="311.07" text-anchor="end">0.14</text><text x="319.5" y="290.73" text-anchor="end">0.16</text><text x="319.5" y="270.4" text-anchor="end">0.18</text></g>
<text x="431.8" y="262.8" text-anchor="middle" font-family="Liberation Sans, Arial, sans-serif" font-size="5.8" font-weight="bold" fill="#333">F15</text>
<text x="424.8" y="470.6" text-anchor="middle" font-family="Liberation Sans, Arial, sans-serif" font-size="5.6" fill="#1a1a1a" stroke="#1a1a1a" stroke-width="0.12">number of iterations</text>
<text transform="translate(303.3,367) rotate(-90)" text-anchor="middle" font-family="Liberation Sans, Arial, sans-serif" font-size="5.6" fill="#1a1a1a" stroke="#1a1a1a" stroke-width="0.12">fitness value</text>
<path d="M325.93,452.2 L540.5,452.5" fill="none" stroke="#ff0000" stroke-width="1.25" stroke-linejoin="round"/>
<polygon points="325.93,448.6 329.13,454.4 322.73,454.4" fill="none" stroke="#ff0000" stroke-width="1.2"/><polygon points="347.43,448.63 350.63,454.43 344.23,454.43" fill="none" stroke="#ff0000" stroke-width="1.2"/><polygon points="368.93,448.66 372.13,454.46 365.73,454.46" fill="none" stroke="#ff0000" stroke-width="1.2"/><polygon points="390.43,448.69 393.63,454.49 387.23,454.49" fill="none" stroke="#ff0000" stroke-width="1.2"/><polygon points="411.93,448.72 415.13,454.52 408.73,454.52" fill="none" stroke="#ff0000" stroke-width="1.2"/><polygon points="433.43,448.75 436.63,454.55 430.23,454.55" fill="none" stroke="#ff0000" stroke-width="1.2"/><polygon points="454.93,448.78 458.13,454.58 451.73,454.58" fill="none" stroke="#ff0000" stroke-width="1.2"/><polygon points="476.43,448.81 479.63,454.61 473.23,454.61" fill="none" stroke="#ff0000" stroke-width="1.2"/><polygon points="497.93,448.84 501.13,454.64 494.73,454.64" fill="none" stroke="#ff0000" stroke-width="1.2"/><polygon points="519.43,448.87 522.63,454.67 516.23,454.67" fill="none" stroke="#ff0000" stroke-width="1.2"/>
<path d="M325.93,330 L326.3,380 L326.8,415 L327.6,424.4 L329.5,427 L331.4,429.5 L335.2,431.4 L336.5,433.3 L337.2,443.5 L338.4,450.6 L340,452.4 L540.5,452.5" fill="none" stroke="#000000" stroke-width="1.25" stroke-linejoin="round"/>
<circle cx="325.93" cy="330" r="2.8" fill="none" stroke="#000000" stroke-width="1.1"/><circle cx="347.43" cy="452.4" r="2.8" fill="none" stroke="#000000" stroke-width="1.1"/><circle cx="368.93" cy="452.41" r="2.8" fill="none" stroke="#000000" stroke-width="1.1"/><circle cx="390.43" cy="452.43" r="2.8" fill="none" stroke="#000000" stroke-width="1.1"/><circle cx="411.93" cy="452.44" r="2.8" fill="none" stroke="#000000" stroke-width="1.1"/><circle cx="433.43" cy="452.45" r="2.8" fill="none" stroke="#000000" stroke-width="1.1"/><circle cx="454.93" cy="452.46" r="2.8" fill="none" stroke="#000000" stroke-width="1.1"/><circle cx="476.43" cy="452.47" r="2.8" fill="none" stroke="#000000" stroke-width="1.1"/><circle cx="497.93" cy="452.48" r="2.8" fill="none" stroke="#000000" stroke-width="1.1"/><circle cx="519.43" cy="452.49" r="2.8" fill="none" stroke="#000000" stroke-width="1.1"/>
<path d="M325.93,375.7 L326.9,385.6 L332.2,385.6 L333.3,399 L334,425.7 L337.8,426.3 L338.4,438.4 L339.7,442.9 L346.1,443.5 L350,444.2 L353.8,445.4 L355,451.5 L360,452.4 L540.5,452.5" fill="none" stroke="#0000ff" stroke-width="1.25" stroke-linejoin="round"/>
<polygon points="325.93,371.9 328.23,375.7 325.93,379.5 323.63,375.7" fill="none" stroke="#0000ff" stroke-width="1.1"/><polygon points="347.43,439.94 349.73,443.74 347.43,447.54 345.13,443.74" fill="none" stroke="#0000ff" stroke-width="1.1"/><polygon points="368.93,448.6 371.23,452.4 368.93,456.2 366.63,452.4" fill="none" stroke="#0000ff" stroke-width="1.1"/><polygon points="390.43,448.62 392.73,452.42 390.43,456.22 388.13,452.42" fill="none" stroke="#0000ff" stroke-width="1.1"/><polygon points="411.93,448.63 414.23,452.43 411.93,456.23 409.63,452.43" fill="none" stroke="#0000ff" stroke-width="1.1"/><polygon points="433.43,448.64 435.73,452.44 433.43,456.24 431.13,452.44" fill="none" stroke="#0000ff" stroke-width="1.1"/><polygon points="454.93,448.65 457.23,452.45 454.93,456.25 452.63,452.45" fill="none" stroke="#0000ff" stroke-width="1.1"/><polygon points="476.43,448.66 478.73,452.46 476.43,456.26 474.13,452.46" fill="none" stroke="#0000ff" stroke-width="1.1"/><polygon points="497.93,448.68 500.23,452.48 497.93,456.28 495.63,452.48" fill="none" stroke="#0000ff" stroke-width="1.1"/><polygon points="519.43,448.69 521.73,452.49 519.43,456.29 517.13,452.49" fill="none" stroke="#0000ff" stroke-width="1.1"/>
<path d="M325.93,288 L326.2,380 L326.9,425 L327.5,430.9 L328.8,432 L329.5,432.3 L540.5,432.3" fill="none" stroke="#00ffff" stroke-width="1.25" stroke-linejoin="round"/>
<rect x="323.83" y="285.9" width="4.2" height="4.2" fill="none" stroke="#00ffff" stroke-width="1.1"/><rect x="345.33" y="430.2" width="4.2" height="4.2" fill="none" stroke="#00ffff" stroke-width="1.1"/><rect x="366.83" y="430.2" width="4.2" height="4.2" fill="none" stroke="#00ffff" stroke-width="1.1"/><rect x="388.33" y="430.2" width="4.2" height="4.2" fill="none" stroke="#00ffff" stroke-width="1.1"/><rect x="409.83" y="430.2" width="4.2" height="4.2" fill="none" stroke="#00ffff" stroke-width="1.1"/><rect x="431.33" y="430.2" width="4.2" height="4.2" fill="none" stroke="#00ffff" stroke-width="1.1"/><rect x="452.83" y="430.2" width="4.2" height="4.2" fill="none" stroke="#00ffff" stroke-width="1.1"/><rect x="474.33" y="430.2" width="4.2" height="4.2" fill="none" stroke="#00ffff" stroke-width="1.1"/><rect x="495.83" y="430.2" width="4.2" height="4.2" fill="none" stroke="#00ffff" stroke-width="1.1"/><rect x="517.33" y="430.2" width="4.2" height="4.2" fill="none" stroke="#00ffff" stroke-width="1.1"/>
<path d="M325.93,441.2 L336,441.2 L336.6,451.2 L338,451.4 L540.5,451.4" fill="none" stroke="#ff00ff" stroke-width="1.25" stroke-linejoin="round"/>
<polygon points="325.93,437.3 326.87,439.91 329.64,439.99 327.45,441.69 328.22,444.36 325.93,442.8 323.64,444.36 324.41,441.69 322.22,439.99 324.99,439.91" fill="#ff00ff" stroke="#ff00ff" stroke-width="0.6"/><polygon points="347.43,447.5 348.37,450.11 351.14,450.19 348.95,451.89 349.72,454.56 347.43,453 345.14,454.56 345.91,451.89 343.72,450.19 346.49,450.11" fill="#ff00ff" stroke="#ff00ff" stroke-width="0.6"/><polygon points="368.93,447.5 369.87,450.11 372.64,450.19 370.45,451.89 371.22,454.56 368.93,453 366.64,454.56 367.41,451.89 365.22,450.19 367.99,450.11" fill="#ff00ff" stroke="#ff00ff" stroke-width="0.6"/><polygon points="390.43,447.5 391.37,450.11 394.14,450.19 391.95,451.89 392.72,454.56 390.43,453 388.14,454.56 388.91,451.89 386.72,450.19 389.49,450.11" fill="#ff00ff" stroke="#ff00ff" stroke-width="0.6"/><polygon points="411.93,447.5 412.87,450.11 415.64,450.19 413.45,451.89 414.22,454.56 411.93,453 409.64,454.56 410.41,451.89 408.22,450.19 410.99,450.11" fill="#ff00ff" stroke="#ff00ff" stroke-width="0.6"/><polygon points="433.43,447.5 434.37,450.11 437.14,450.19 434.95,451.89 435.72,454.56 433.43,453 431.14,454.56 431.91,451.89 429.72,450.19 432.49,450.11" fill="#ff00ff" stroke="#ff00ff" stroke-width="0.6"/><polygon points="454.93,447.5 455.87,450.11 458.64,450.19 456.45,451.89 457.22,454.56 454.93,453 452.64,454.56 453.41,451.89 451.22,450.19 453.99,450.11" fill="#ff00ff" stroke="#ff00ff" stroke-width="0.6"/><polygon points="476.43,447.5 477.37,450.11 480.14,450.19 477.95,451.89 478.72,454.56 476.43,453 474.14,454.56 474.91,451.89 472.72,450.19 475.49,450.11" fill="#ff00ff" stroke="#ff00ff" stroke-width="0.6"/><polygon points="497.93,447.5 498.87,450.11 501.64,450.19 499.45,451.89 500.22,454.56 497.93,453 495.64,454.56 496.41,451.89 494.22,450.19 496.99,450.11" fill="#ff00ff" stroke="#ff00ff" stroke-width="0.6"/><polygon points="519.43,447.5 520.37,450.11 523.14,450.19 520.95,451.89 521.72,454.56 519.43,453 517.14,454.56 517.91,451.89 515.72,450.19 518.49,450.11" fill="#ff00ff" stroke="#ff00ff" stroke-width="0.6"/>
<path d="M325.93,355.1 L326.5,400 L327.2,425 L328.2,433.3 L329.5,441 L330.8,442.3 L332,450 L334,452.4 L540.5,452.5" fill="none" stroke="#000000" stroke-width="1.25" stroke-linejoin="round"/>
<polygon points="325.93,352.1 326.69,353.45 328.01,353.6 327.45,355.1 328.01,356.6 326.69,356.75 325.93,358.1 325.17,356.75 323.85,356.6 324.41,355.1 323.85,353.6 325.17,353.45" fill="#000000" stroke="#000000" stroke-width="0.8"/><polygon points="347.43,449.41 348.19,450.76 349.51,450.91 348.95,452.41 349.51,453.91 348.19,454.05 347.43,455.41 346.67,454.05 345.35,453.91 345.91,452.41 345.35,450.91 346.67,450.76" fill="#000000" stroke="#000000" stroke-width="0.8"/><polygon points="368.93,449.42 369.69,450.77 371.01,450.92 370.45,452.42 371.01,453.92 369.69,454.06 368.93,455.42 368.17,454.06 366.85,453.92 367.41,452.42 366.85,450.92 368.17,450.77" fill="#000000" stroke="#000000" stroke-width="0.8"/><polygon points="390.43,449.43 391.19,450.78 392.51,450.93 391.95,452.43 392.51,453.93 391.19,454.07 390.43,455.43 389.67,454.07 388.35,453.93 388.91,452.43 388.35,450.93 389.67,450.78" fill="#000000" stroke="#000000" stroke-width="0.8"/><polygon points="411.93,449.44 412.69,450.79 414.01,450.94 413.45,452.44 414.01,453.94 412.69,454.08 411.93,455.44 411.17,454.08 409.85,453.94 410.41,452.44 409.85,450.94 411.17,450.79" fill="#000000" stroke="#000000" stroke-width="0.8"/><polygon points="433.43,449.45 434.19,450.8 435.51,450.95 434.95,452.45 435.51,453.95 434.19,454.09 433.43,455.45 432.67,454.09 431.35,453.95 431.91,452.45 431.35,450.95 432.67,450.8" fill="#000000" stroke="#000000" stroke-width="0.8"/><polygon points="454.93,449.46 455.69,450.81 457.01,450.96 456.45,452.46 457.01,453.96 455.69,454.1 454.93,455.46 454.17,454.1 452.85,453.96 453.41,452.46 452.85,450.96 454.17,450.81" fill="#000000" stroke="#000000" stroke-width="0.8"/><polygon points="476.43,449.47 477.19,450.82 478.51,450.97 477.95,452.47 478.51,453.97 477.19,454.11 476.43,455.47 475.67,454.11 474.35,453.97 474.91,452.47 474.35,450.97 475.67,450.82" fill="#000000" stroke="#000000" stroke-width="0.8"/><polygon points="497.93,449.48 498.69,450.83 500.01,450.98 499.45,452.48 500.01,453.98 498.69,454.12 497.93,455.48 497.17,454.12 495.85,453.98 496.41,452.48 495.85,450.98 497.17,450.83" fill="#000000" stroke="#000000" stroke-width="0.8"/><polygon points="519.43,449.49 520.19,450.84 521.51,450.99 520.95,452.49 521.51,453.99 520.19,454.14 519.43,455.49 518.67,454.14 517.35,453.99 517.91,452.49 517.35,450.99 518.67,450.84" fill="#000000" stroke="#000000" stroke-width="0.8"/>
<path d="M325.93,389.5 L326.3,410 L326.9,424 L327.6,435 L328.9,444.8 L332,450.6 L343.5,451.4 L360,452 L540.5,452.2" fill="none" stroke="#00ff00" stroke-width="1.25" stroke-linejoin="round"/>
<polygon points="325.93,386.6 326.83,387.94 328.44,388.05 327.73,389.5 328.44,390.95 326.83,391.06 325.93,392.4 325.03,391.06 323.42,390.95 324.13,389.5 323.42,388.05 325.03,387.94" fill="none" stroke="#00ff00" stroke-width="1.3"/><polygon points="347.43,448.64 348.33,449.98 349.94,450.09 349.23,451.54 349.94,452.99 348.33,453.1 347.43,454.44 346.53,453.1 344.92,452.99 345.63,451.54 344.92,450.09 346.53,449.98" fill="none" stroke="#00ff00" stroke-width="1.3"/><polygon points="368.93,449.11 369.83,450.45 371.44,450.56 370.73,452.01 371.44,453.46 369.83,453.57 368.93,454.91 368.03,453.57 366.42,453.46 367.13,452.01 366.42,450.56 368.03,450.45" fill="none" stroke="#00ff00" stroke-width="1.3"/><polygon points="390.43,449.13 391.33,450.47 392.94,450.58 392.23,452.03 392.94,453.48 391.33,453.59 390.43,454.93 389.53,453.59 387.92,453.48 388.63,452.03 387.92,450.58 389.53,450.47" fill="none" stroke="#00ff00" stroke-width="1.3"/><polygon points="411.93,449.16 412.83,450.5 414.44,450.61 413.73,452.06 414.44,453.51 412.83,453.62 411.93,454.96 411.03,453.62 409.42,453.51 410.13,452.06 409.42,450.61 411.03,450.5" fill="none" stroke="#00ff00" stroke-width="1.3"/><polygon points="433.43,449.18 434.33,450.52 435.94,450.63 435.23,452.08 435.94,453.53 434.33,453.64 433.43,454.98 432.53,453.64 430.92,453.53 431.63,452.08 430.92,450.63 432.53,450.52" fill="none" stroke="#00ff00" stroke-width="1.3"/><polygon points="454.93,449.21 455.83,450.55 457.44,450.66 456.73,452.11 457.44,453.56 455.83,453.66 454.93,455.01 454.03,453.66 452.42,453.56 453.13,452.11 452.42,450.66 454.03,450.55" fill="none" stroke="#00ff00" stroke-width="1.3"/><polygon points="476.43,449.23 477.33,450.57 478.94,450.68 478.23,452.13 478.94,453.58 477.33,453.69 476.43,455.03 475.53,453.69 473.92,453.58 474.63,452.13 473.92,450.68 475.53,450.57" fill="none" stroke="#00ff00" stroke-width="1.3"/><polygon points="497.93,449.25 498.83,450.59 500.44,450.7 499.73,452.15 500.44,453.6 498.83,453.71 497.93,455.05 497.03,453.71 495.42,453.6 496.13,452.15 495.42,450.7 497.03,450.59" fill="none" stroke="#00ff00" stroke-width="1.3"/><polygon points="519.43,449.28 520.33,450.62 521.94,450.73 521.23,452.18 521.94,453.63 520.33,453.74 519.43,455.08 518.53,453.74 516.92,453.63 517.63,452.18 516.92,450.73 518.53,450.62" fill="none" stroke="#00ff00" stroke-width="1.3"/>
<rect x="494.5" y="275" width="40.8" height="63.3" fill="#fff" stroke="#a0a0a0" stroke-width="0.8"/>
<line x1="496.5" y1="280.3" x2="516" y2="280.3" stroke="#ff0000" stroke-width="1.25"/>
<polygon points="506.3,276.7 509.5,282.5 503.1,282.5" fill="none" stroke="#ff0000" stroke-width="1.2"/>
<text x="518.1" y="281.2" font-family="Liberation Sans, Arial, sans-serif" font-size="4.6" fill="#111">IWOA</text>
<line x1="496.5" y1="289.07" x2="516" y2="289.07" stroke="#000000" stroke-width="1.25"/>
<circle cx="506.3" cy="289.07" r="2.8" fill="none" stroke="#000000" stroke-width="1.1"/>
<text x="518.1" y="289.97" font-family="Liberation Sans, Arial, sans-serif" font-size="4.6" fill="#111">WOA</text>
<line x1="496.5" y1="297.84" x2="516" y2="297.84" stroke="#0000ff" stroke-width="1.25"/>
<polygon points="506.3,294.04 508.6,297.84 506.3,301.64 504,297.84" fill="none" stroke="#0000ff" stroke-width="1.1"/>
<text x="518.1" y="298.74" font-family="Liberation Sans, Arial, sans-serif" font-size="4.6" fill="#111">BOA</text>
<line x1="496.5" y1="306.61" x2="516" y2="306.61" stroke="#00ffff" stroke-width="1.25"/>
<rect x="504.2" y="304.51" width="4.2" height="4.2" fill="none" stroke="#00ffff" stroke-width="1.1"/>
<text x="518.1" y="307.51" font-family="Liberation Sans, Arial, sans-serif" font-size="4.6" fill="#111">GWO</text>
<line x1="496.5" y1="315.38" x2="516" y2="315.38" stroke="#ff00ff" stroke-width="1.25"/>
<polygon points="506.3,311.48 507.24,314.09 510.01,314.17 507.82,315.87 508.59,318.54 506.3,316.98 504.01,318.54 504.78,315.87 502.59,314.17 505.36,314.09" fill="#ff00ff" stroke="#ff00ff" stroke-width="0.6"/>
<text x="518.1" y="316.28" font-family="Liberation Sans, Arial, sans-serif" font-size="4.6" fill="#111">GSA</text>
<line x1="496.5" y1="324.15" x2="516" y2="324.15" stroke="#000000" stroke-width="1.25"/>
<polygon points="506.3,321.15 507.06,322.5 508.38,322.65 507.82,324.15 508.38,325.65 507.06,325.8 506.3,327.15 505.54,325.8 504.22,325.65 504.78,324.15 504.22,322.65 505.54,322.5" fill="#000000" stroke="#000000" stroke-width="0.8"/>
<text x="518.1" y="325.05" font-family="Liberation Sans, Arial, sans-serif" font-size="4.6" fill="#111">PSO</text>
<line x1="496.5" y1="332.92" x2="516" y2="332.92" stroke="#00ff00" stroke-width="1.25"/>
<polygon points="506.3,330.02 507.2,331.36 508.81,331.47 508.1,332.92 508.81,334.37 507.2,334.48 506.3,335.82 505.4,334.48 503.79,334.37 504.5,332.92 503.79,331.47 505.4,331.36" fill="none" stroke="#00ff00" stroke-width="1.3"/>
<text x="518.1" y="333.82" font-family="Liberation Sans, Arial, sans-serif" font-size="4.6" fill="#111">ABC</text>
<text x="428.4" y="497.1" text-anchor="middle" font-family="Liberation Serif, Times New Roman, serif" font-size="14" font-weight="bold" fill="#000">(d)</text>
</svg></body></html>
